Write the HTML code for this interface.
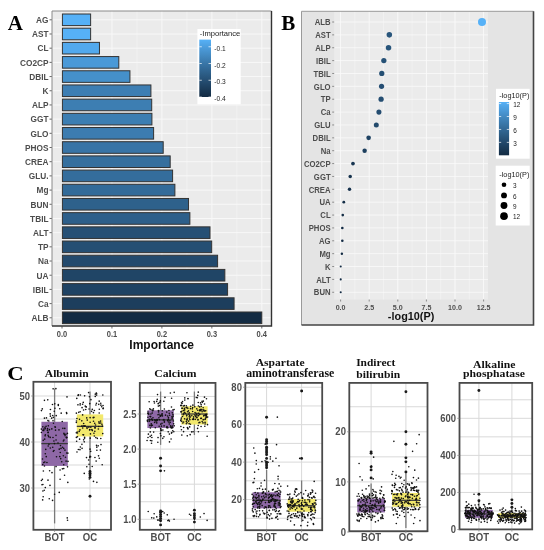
<!DOCTYPE html><html><head><meta charset="utf-8"><style>html,body{margin:0;padding:0;background:#fff;width:544px;height:550px;overflow:hidden}svg{display:block;filter:blur(0.3px)}</style></head><body>
<svg width="544" height="550" viewBox="0 0 544 550">
<defs>
<linearGradient id="gA" x1="0" y1="0" x2="0" y2="1"><stop offset="0.00" stop-color="#56b1f7"/><stop offset="0.10" stop-color="#4fa2e3"/><stop offset="0.20" stop-color="#4894d0"/><stop offset="0.30" stop-color="#4186bd"/><stop offset="0.40" stop-color="#3a78aa"/><stop offset="0.50" stop-color="#336a98"/><stop offset="0.60" stop-color="#2c5d86"/><stop offset="0.70" stop-color="#265075"/><stop offset="0.80" stop-color="#1f4364"/><stop offset="0.90" stop-color="#193753"/><stop offset="1.00" stop-color="#132b43"/></linearGradient>
</defs>
<rect x="52" y="11" width="219.5" height="315" fill="#EBEBEB"/>
<line x1="86.97" y1="11" x2="86.97" y2="326" stroke="#F2F2F2" stroke-width="0.8"/>
<line x1="136.93" y1="11" x2="136.93" y2="326" stroke="#F2F2F2" stroke-width="0.8"/>
<line x1="186.88" y1="11" x2="186.88" y2="326" stroke="#F2F2F2" stroke-width="0.8"/>
<line x1="236.82" y1="11" x2="236.82" y2="326" stroke="#F2F2F2" stroke-width="0.8"/>
<line x1="62.00" y1="11" x2="62.00" y2="326" stroke="#F8F8F8" stroke-width="1"/>
<line x1="111.95" y1="11" x2="111.95" y2="326" stroke="#F8F8F8" stroke-width="1"/>
<line x1="161.90" y1="11" x2="161.90" y2="326" stroke="#F8F8F8" stroke-width="1"/>
<line x1="211.85" y1="11" x2="211.85" y2="326" stroke="#F8F8F8" stroke-width="1"/>
<line x1="261.80" y1="11" x2="261.80" y2="326" stroke="#F8F8F8" stroke-width="1"/>
<line x1="52" y1="19.80" x2="271.5" y2="19.80" stroke="#F8F8F8" stroke-width="1"/>
<line x1="52" y1="33.99" x2="271.5" y2="33.99" stroke="#F8F8F8" stroke-width="1"/>
<line x1="52" y1="48.18" x2="271.5" y2="48.18" stroke="#F8F8F8" stroke-width="1"/>
<line x1="52" y1="62.37" x2="271.5" y2="62.37" stroke="#F8F8F8" stroke-width="1"/>
<line x1="52" y1="76.56" x2="271.5" y2="76.56" stroke="#F8F8F8" stroke-width="1"/>
<line x1="52" y1="90.75" x2="271.5" y2="90.75" stroke="#F8F8F8" stroke-width="1"/>
<line x1="52" y1="104.94" x2="271.5" y2="104.94" stroke="#F8F8F8" stroke-width="1"/>
<line x1="52" y1="119.13" x2="271.5" y2="119.13" stroke="#F8F8F8" stroke-width="1"/>
<line x1="52" y1="133.32" x2="271.5" y2="133.32" stroke="#F8F8F8" stroke-width="1"/>
<line x1="52" y1="147.51" x2="271.5" y2="147.51" stroke="#F8F8F8" stroke-width="1"/>
<line x1="52" y1="161.70" x2="271.5" y2="161.70" stroke="#F8F8F8" stroke-width="1"/>
<line x1="52" y1="175.89" x2="271.5" y2="175.89" stroke="#F8F8F8" stroke-width="1"/>
<line x1="52" y1="190.08" x2="271.5" y2="190.08" stroke="#F8F8F8" stroke-width="1"/>
<line x1="52" y1="204.27" x2="271.5" y2="204.27" stroke="#F8F8F8" stroke-width="1"/>
<line x1="52" y1="218.46" x2="271.5" y2="218.46" stroke="#F8F8F8" stroke-width="1"/>
<line x1="52" y1="232.65" x2="271.5" y2="232.65" stroke="#F8F8F8" stroke-width="1"/>
<line x1="52" y1="246.84" x2="271.5" y2="246.84" stroke="#F8F8F8" stroke-width="1"/>
<line x1="52" y1="261.03" x2="271.5" y2="261.03" stroke="#F8F8F8" stroke-width="1"/>
<line x1="52" y1="275.22" x2="271.5" y2="275.22" stroke="#F8F8F8" stroke-width="1"/>
<line x1="52" y1="289.41" x2="271.5" y2="289.41" stroke="#F8F8F8" stroke-width="1"/>
<line x1="52" y1="303.60" x2="271.5" y2="303.60" stroke="#F8F8F8" stroke-width="1"/>
<line x1="52" y1="317.79" x2="271.5" y2="317.79" stroke="#F8F8F8" stroke-width="1"/>
<rect x="62.4" y="14.00" width="28.22" height="11.6" fill="#56b1f7" stroke="#333" stroke-width="1"/>
<line x1="49.5" y1="19.80" x2="52" y2="19.80" stroke="#444" stroke-width="0.8"/>
<text transform="translate(48.5,23.10) scale(0.9,1)" text-anchor="end" font-family='"Liberation Sans", sans-serif' font-weight="bold" font-size="9.2" fill="#4D4D4D">AG</text>
<rect x="62.4" y="28.19" width="28.22" height="11.6" fill="#56b1f7" stroke="#333" stroke-width="1"/>
<line x1="49.5" y1="33.99" x2="52" y2="33.99" stroke="#444" stroke-width="0.8"/>
<text transform="translate(48.5,37.29) scale(0.9,1)" text-anchor="end" font-family='"Liberation Sans", sans-serif' font-weight="bold" font-size="9.2" fill="#4D4D4D">AST</text>
<rect x="62.4" y="42.38" width="37.06" height="11.6" fill="#52a9ed" stroke="#333" stroke-width="1"/>
<line x1="49.5" y1="48.18" x2="52" y2="48.18" stroke="#444" stroke-width="0.8"/>
<text transform="translate(48.5,51.48) scale(0.9,1)" text-anchor="end" font-family='"Liberation Sans", sans-serif' font-weight="bold" font-size="9.2" fill="#4D4D4D">CL</text>
<rect x="62.4" y="56.57" width="56.39" height="11.6" fill="#4a99d7" stroke="#333" stroke-width="1"/>
<line x1="49.5" y1="62.37" x2="52" y2="62.37" stroke="#444" stroke-width="0.8"/>
<text transform="translate(48.5,65.67) scale(0.9,1)" text-anchor="end" font-family='"Liberation Sans", sans-serif' font-weight="bold" font-size="9.2" fill="#4D4D4D">CO2CP</text>
<rect x="62.4" y="70.76" width="67.53" height="11.6" fill="#4590ca" stroke="#333" stroke-width="1"/>
<line x1="49.5" y1="76.56" x2="52" y2="76.56" stroke="#444" stroke-width="0.8"/>
<text transform="translate(48.5,79.86) scale(0.9,1)" text-anchor="end" font-family='"Liberation Sans", sans-serif' font-weight="bold" font-size="9.2" fill="#4D4D4D">DBIL</text>
<rect x="62.4" y="84.95" width="88.51" height="11.6" fill="#3d7eb3" stroke="#333" stroke-width="1"/>
<line x1="49.5" y1="90.75" x2="52" y2="90.75" stroke="#444" stroke-width="0.8"/>
<text transform="translate(48.5,94.05) scale(0.9,1)" text-anchor="end" font-family='"Liberation Sans", sans-serif' font-weight="bold" font-size="9.2" fill="#4D4D4D">K</text>
<rect x="62.4" y="99.14" width="89.31" height="11.6" fill="#3d7eb2" stroke="#333" stroke-width="1"/>
<line x1="49.5" y1="104.94" x2="52" y2="104.94" stroke="#444" stroke-width="0.8"/>
<text transform="translate(48.5,108.24) scale(0.9,1)" text-anchor="end" font-family='"Liberation Sans", sans-serif' font-weight="bold" font-size="9.2" fill="#4D4D4D">ALP</text>
<rect x="62.4" y="113.33" width="89.51" height="11.6" fill="#3c7eb2" stroke="#333" stroke-width="1"/>
<line x1="49.5" y1="119.13" x2="52" y2="119.13" stroke="#444" stroke-width="0.8"/>
<text transform="translate(48.5,122.43) scale(0.9,1)" text-anchor="end" font-family='"Liberation Sans", sans-serif' font-weight="bold" font-size="9.2" fill="#4D4D4D">GGT</text>
<rect x="62.4" y="127.52" width="91.21" height="11.6" fill="#3c7cb0" stroke="#333" stroke-width="1"/>
<line x1="49.5" y1="133.32" x2="52" y2="133.32" stroke="#444" stroke-width="0.8"/>
<text transform="translate(48.5,136.62) scale(0.9,1)" text-anchor="end" font-family='"Liberation Sans", sans-serif' font-weight="bold" font-size="9.2" fill="#4D4D4D">GLO</text>
<rect x="62.4" y="141.71" width="100.80" height="11.6" fill="#3874a6" stroke="#333" stroke-width="1"/>
<line x1="49.5" y1="147.51" x2="52" y2="147.51" stroke="#444" stroke-width="0.8"/>
<text transform="translate(48.5,150.81) scale(0.9,1)" text-anchor="end" font-family='"Liberation Sans", sans-serif' font-weight="bold" font-size="9.2" fill="#4D4D4D">PHOS</text>
<rect x="62.4" y="155.90" width="107.79" height="11.6" fill="#356f9e" stroke="#333" stroke-width="1"/>
<line x1="49.5" y1="161.70" x2="52" y2="161.70" stroke="#444" stroke-width="0.8"/>
<text transform="translate(48.5,165.00) scale(0.9,1)" text-anchor="end" font-family='"Liberation Sans", sans-serif' font-weight="bold" font-size="9.2" fill="#4D4D4D">CREA</text>
<rect x="62.4" y="170.09" width="110.19" height="11.6" fill="#346d9c" stroke="#333" stroke-width="1"/>
<line x1="49.5" y1="175.89" x2="52" y2="175.89" stroke="#444" stroke-width="0.8"/>
<text transform="translate(48.5,179.19) scale(0.9,1)" text-anchor="end" font-family='"Liberation Sans", sans-serif' font-weight="bold" font-size="9.2" fill="#4D4D4D">GLU.</text>
<rect x="62.4" y="184.28" width="112.49" height="11.6" fill="#336b99" stroke="#333" stroke-width="1"/>
<line x1="49.5" y1="190.08" x2="52" y2="190.08" stroke="#444" stroke-width="0.8"/>
<text transform="translate(48.5,193.38) scale(0.9,1)" text-anchor="end" font-family='"Liberation Sans", sans-serif' font-weight="bold" font-size="9.2" fill="#4D4D4D">Mg</text>
<rect x="62.4" y="198.47" width="126.12" height="11.6" fill="#2e618b" stroke="#333" stroke-width="1"/>
<line x1="49.5" y1="204.27" x2="52" y2="204.27" stroke="#444" stroke-width="0.8"/>
<text transform="translate(48.5,207.57) scale(0.9,1)" text-anchor="end" font-family='"Liberation Sans", sans-serif' font-weight="bold" font-size="9.2" fill="#4D4D4D">BUN</text>
<rect x="62.4" y="212.66" width="127.47" height="11.6" fill="#2d5f8a" stroke="#333" stroke-width="1"/>
<line x1="49.5" y1="218.46" x2="52" y2="218.46" stroke="#444" stroke-width="0.8"/>
<text transform="translate(48.5,221.76) scale(0.9,1)" text-anchor="end" font-family='"Liberation Sans", sans-serif' font-weight="bold" font-size="9.2" fill="#4D4D4D">TBIL</text>
<rect x="62.4" y="226.85" width="147.60" height="11.6" fill="#265075" stroke="#333" stroke-width="1"/>
<line x1="49.5" y1="232.65" x2="52" y2="232.65" stroke="#444" stroke-width="0.8"/>
<text transform="translate(48.5,235.95) scale(0.9,1)" text-anchor="end" font-family='"Liberation Sans", sans-serif' font-weight="bold" font-size="9.2" fill="#4D4D4D">ALT</text>
<rect x="62.4" y="241.04" width="149.30" height="11.6" fill="#254f73" stroke="#333" stroke-width="1"/>
<line x1="49.5" y1="246.84" x2="52" y2="246.84" stroke="#444" stroke-width="0.8"/>
<text transform="translate(48.5,250.14) scale(0.9,1)" text-anchor="end" font-family='"Liberation Sans", sans-serif' font-weight="bold" font-size="9.2" fill="#4D4D4D">TP</text>
<rect x="62.4" y="255.23" width="155.19" height="11.6" fill="#234a6d" stroke="#333" stroke-width="1"/>
<line x1="49.5" y1="261.03" x2="52" y2="261.03" stroke="#444" stroke-width="0.8"/>
<text transform="translate(48.5,264.33) scale(0.9,1)" text-anchor="end" font-family='"Liberation Sans", sans-serif' font-weight="bold" font-size="9.2" fill="#4D4D4D">Na</text>
<rect x="62.4" y="269.42" width="162.44" height="11.6" fill="#204566" stroke="#333" stroke-width="1"/>
<line x1="49.5" y1="275.22" x2="52" y2="275.22" stroke="#444" stroke-width="0.8"/>
<text transform="translate(48.5,278.52) scale(0.9,1)" text-anchor="end" font-family='"Liberation Sans", sans-serif' font-weight="bold" font-size="9.2" fill="#4D4D4D">UA</text>
<rect x="62.4" y="283.61" width="165.18" height="11.6" fill="#1f4364" stroke="#333" stroke-width="1"/>
<line x1="49.5" y1="289.41" x2="52" y2="289.41" stroke="#444" stroke-width="0.8"/>
<text transform="translate(48.5,292.71) scale(0.9,1)" text-anchor="end" font-family='"Liberation Sans", sans-serif' font-weight="bold" font-size="9.2" fill="#4D4D4D">IBIL</text>
<rect x="62.4" y="297.80" width="171.68" height="11.6" fill="#1d3e5d" stroke="#333" stroke-width="1"/>
<line x1="49.5" y1="303.60" x2="52" y2="303.60" stroke="#444" stroke-width="0.8"/>
<text transform="translate(48.5,306.90) scale(0.9,1)" text-anchor="end" font-family='"Liberation Sans", sans-serif' font-weight="bold" font-size="9.2" fill="#4D4D4D">Ca</text>
<rect x="62.4" y="311.99" width="199.40" height="11.6" fill="#132b43" stroke="#333" stroke-width="1"/>
<line x1="49.5" y1="317.79" x2="52" y2="317.79" stroke="#444" stroke-width="0.8"/>
<text transform="translate(48.5,321.09) scale(0.9,1)" text-anchor="end" font-family='"Liberation Sans", sans-serif' font-weight="bold" font-size="9.2" fill="#4D4D4D">ALB</text>
<path d="M52 326 L52 11 L271.5 11" fill="none" stroke="#8a8a8a" stroke-width="1"/>
<path d="M52 326 L271.5 326 L271.5 11" fill="none" stroke="#333" stroke-width="1.4"/>
<line x1="62.00" y1="326" x2="62.00" y2="328.5" stroke="#444" stroke-width="0.8"/>
<text transform="translate(62.00,336.7) scale(0.88,1)" text-anchor="middle" font-family='"Liberation Sans", sans-serif' font-weight="bold" font-size="8.5" fill="#4D4D4D">0.0</text>
<line x1="111.95" y1="326" x2="111.95" y2="328.5" stroke="#444" stroke-width="0.8"/>
<text transform="translate(111.95,336.7) scale(0.88,1)" text-anchor="middle" font-family='"Liberation Sans", sans-serif' font-weight="bold" font-size="8.5" fill="#4D4D4D">0.1</text>
<line x1="161.90" y1="326" x2="161.90" y2="328.5" stroke="#444" stroke-width="0.8"/>
<text transform="translate(161.90,336.7) scale(0.88,1)" text-anchor="middle" font-family='"Liberation Sans", sans-serif' font-weight="bold" font-size="8.5" fill="#4D4D4D">0.2</text>
<line x1="211.85" y1="326" x2="211.85" y2="328.5" stroke="#444" stroke-width="0.8"/>
<text transform="translate(211.85,336.7) scale(0.88,1)" text-anchor="middle" font-family='"Liberation Sans", sans-serif' font-weight="bold" font-size="8.5" fill="#4D4D4D">0.3</text>
<line x1="261.80" y1="326" x2="261.80" y2="328.5" stroke="#444" stroke-width="0.8"/>
<text transform="translate(261.80,336.7) scale(0.88,1)" text-anchor="middle" font-family='"Liberation Sans", sans-serif' font-weight="bold" font-size="8.5" fill="#4D4D4D">0.4</text>
<text x="161.7" y="348.6" text-anchor="middle" font-family='"Liberation Sans", sans-serif' font-weight="bold" font-size="12" fill="#111">Importance</text>
<rect x="197.4" y="29" width="43.3" height="75.3" fill="#FFFFFF"/>
<text x="199.8" y="36.4" font-family='"Liberation Sans", sans-serif' font-size="7.6" fill="#222">-Importance</text>
<rect x="199.3" y="39.6" width="11.7" height="57.4" fill="url(#gA)"/>
<line x1="199.3" y1="46.75" x2="201.8" y2="46.75" stroke="#fff" stroke-width="0.7"/>
<line x1="208.5" y1="46.75" x2="211" y2="46.75" stroke="#fff" stroke-width="0.7"/>
<text x="214.3" y="50.75" font-family='"Liberation Sans", sans-serif' font-size="6.6" fill="#222">-0.1</text>
<line x1="199.3" y1="63.50" x2="201.8" y2="63.50" stroke="#fff" stroke-width="0.7"/>
<line x1="208.5" y1="63.50" x2="211" y2="63.50" stroke="#fff" stroke-width="0.7"/>
<text x="214.3" y="67.50" font-family='"Liberation Sans", sans-serif' font-size="6.6" fill="#222">-0.2</text>
<line x1="199.3" y1="80.25" x2="201.8" y2="80.25" stroke="#fff" stroke-width="0.7"/>
<line x1="208.5" y1="80.25" x2="211" y2="80.25" stroke="#fff" stroke-width="0.7"/>
<text x="214.3" y="84.25" font-family='"Liberation Sans", sans-serif' font-size="6.6" fill="#222">-0.3</text>
<line x1="199.3" y1="97.00" x2="201.8" y2="97.00" stroke="#fff" stroke-width="0.7"/>
<line x1="208.5" y1="97.00" x2="211" y2="97.00" stroke="#fff" stroke-width="0.7"/>
<text x="214.3" y="101.00" font-family='"Liberation Sans", sans-serif' font-size="6.6" fill="#222">-0.4</text>
<text x="7.8" y="30.3" font-family='"Liberation Serif", serif' font-weight="bold" font-size="21" fill="#000">A</text>
<text x="281.3" y="29.8" font-family='"Liberation Serif", serif' font-weight="bold" font-size="21" fill="#000">B</text>
<rect x="301.5" y="11.3" width="232.0" height="313.7" fill="#E4E4E4"/>
<rect x="334.2" y="11.3" width="153.8" height="288.2" fill="#EBEBEB"/>
<line x1="354.90" y1="11.3" x2="354.90" y2="299.5" stroke="#F2F2F2" stroke-width="0.8"/>
<line x1="383.50" y1="11.3" x2="383.50" y2="299.5" stroke="#F2F2F2" stroke-width="0.8"/>
<line x1="412.10" y1="11.3" x2="412.10" y2="299.5" stroke="#F2F2F2" stroke-width="0.8"/>
<line x1="440.70" y1="11.3" x2="440.70" y2="299.5" stroke="#F2F2F2" stroke-width="0.8"/>
<line x1="469.30" y1="11.3" x2="469.30" y2="299.5" stroke="#F2F2F2" stroke-width="0.8"/>
<line x1="340.60" y1="11.3" x2="340.60" y2="299.5" stroke="#FAFAFA" stroke-width="0.9"/>
<line x1="369.20" y1="11.3" x2="369.20" y2="299.5" stroke="#FAFAFA" stroke-width="0.9"/>
<line x1="397.80" y1="11.3" x2="397.80" y2="299.5" stroke="#FAFAFA" stroke-width="0.9"/>
<line x1="426.40" y1="11.3" x2="426.40" y2="299.5" stroke="#FAFAFA" stroke-width="0.9"/>
<line x1="455.00" y1="11.3" x2="455.00" y2="299.5" stroke="#FAFAFA" stroke-width="0.9"/>
<line x1="483.60" y1="11.3" x2="483.60" y2="299.5" stroke="#FAFAFA" stroke-width="0.9"/>
<line x1="334.2" y1="22.00" x2="488" y2="22.00" stroke="#FAFAFA" stroke-width="0.8"/>
<line x1="334.2" y1="34.87" x2="488" y2="34.87" stroke="#FAFAFA" stroke-width="0.8"/>
<line x1="334.2" y1="47.74" x2="488" y2="47.74" stroke="#FAFAFA" stroke-width="0.8"/>
<line x1="334.2" y1="60.61" x2="488" y2="60.61" stroke="#FAFAFA" stroke-width="0.8"/>
<line x1="334.2" y1="73.48" x2="488" y2="73.48" stroke="#FAFAFA" stroke-width="0.8"/>
<line x1="334.2" y1="86.35" x2="488" y2="86.35" stroke="#FAFAFA" stroke-width="0.8"/>
<line x1="334.2" y1="99.22" x2="488" y2="99.22" stroke="#FAFAFA" stroke-width="0.8"/>
<line x1="334.2" y1="112.09" x2="488" y2="112.09" stroke="#FAFAFA" stroke-width="0.8"/>
<line x1="334.2" y1="124.96" x2="488" y2="124.96" stroke="#FAFAFA" stroke-width="0.8"/>
<line x1="334.2" y1="137.83" x2="488" y2="137.83" stroke="#FAFAFA" stroke-width="0.8"/>
<line x1="334.2" y1="150.70" x2="488" y2="150.70" stroke="#FAFAFA" stroke-width="0.8"/>
<line x1="334.2" y1="163.57" x2="488" y2="163.57" stroke="#FAFAFA" stroke-width="0.8"/>
<line x1="334.2" y1="176.44" x2="488" y2="176.44" stroke="#FAFAFA" stroke-width="0.8"/>
<line x1="334.2" y1="189.31" x2="488" y2="189.31" stroke="#FAFAFA" stroke-width="0.8"/>
<line x1="334.2" y1="202.18" x2="488" y2="202.18" stroke="#FAFAFA" stroke-width="0.8"/>
<line x1="334.2" y1="215.05" x2="488" y2="215.05" stroke="#FAFAFA" stroke-width="0.8"/>
<line x1="334.2" y1="227.92" x2="488" y2="227.92" stroke="#FAFAFA" stroke-width="0.8"/>
<line x1="334.2" y1="240.79" x2="488" y2="240.79" stroke="#FAFAFA" stroke-width="0.8"/>
<line x1="334.2" y1="253.66" x2="488" y2="253.66" stroke="#FAFAFA" stroke-width="0.8"/>
<line x1="334.2" y1="266.53" x2="488" y2="266.53" stroke="#FAFAFA" stroke-width="0.8"/>
<line x1="334.2" y1="279.40" x2="488" y2="279.40" stroke="#FAFAFA" stroke-width="0.8"/>
<line x1="334.2" y1="292.27" x2="488" y2="292.27" stroke="#FAFAFA" stroke-width="0.8"/>
<circle cx="482.00" cy="22.00" r="4.03" fill="#56b1f7"/>
<line x1="332.2" y1="22.00" x2="334.2" y2="22.00" stroke="#666" stroke-width="0.7"/>
<text transform="translate(330.59999999999997,25.20) scale(0.92,1)" text-anchor="end" font-family='"Liberation Sans", sans-serif' font-weight="bold" font-size="8.4" fill="#4D4D4D">ALB</text>
<circle cx="389.33" cy="34.87" r="2.76" fill="#29567c"/>
<line x1="332.2" y1="34.87" x2="334.2" y2="34.87" stroke="#666" stroke-width="0.7"/>
<text transform="translate(330.59999999999997,38.07) scale(0.92,1)" text-anchor="end" font-family='"Liberation Sans", sans-serif' font-weight="bold" font-size="8.4" fill="#4D4D4D">AST</text>
<circle cx="388.53" cy="47.74" r="2.74" fill="#28557b"/>
<line x1="332.2" y1="47.74" x2="334.2" y2="47.74" stroke="#666" stroke-width="0.7"/>
<text transform="translate(330.59999999999997,50.94) scale(0.92,1)" text-anchor="end" font-family='"Liberation Sans", sans-serif' font-weight="bold" font-size="8.4" fill="#4D4D4D">ALP</text>
<circle cx="383.84" cy="60.61" r="2.65" fill="#265176"/>
<line x1="332.2" y1="60.61" x2="334.2" y2="60.61" stroke="#666" stroke-width="0.7"/>
<text transform="translate(330.59999999999997,63.81) scale(0.92,1)" text-anchor="end" font-family='"Liberation Sans", sans-serif' font-weight="bold" font-size="8.4" fill="#4D4D4D">IBIL</text>
<circle cx="381.78" cy="73.48" r="2.61" fill="#254f73"/>
<line x1="332.2" y1="73.48" x2="334.2" y2="73.48" stroke="#666" stroke-width="0.7"/>
<text transform="translate(330.59999999999997,76.68) scale(0.92,1)" text-anchor="end" font-family='"Liberation Sans", sans-serif' font-weight="bold" font-size="8.4" fill="#4D4D4D">TBIL</text>
<circle cx="381.56" cy="86.35" r="2.61" fill="#254e73"/>
<line x1="332.2" y1="86.35" x2="334.2" y2="86.35" stroke="#666" stroke-width="0.7"/>
<text transform="translate(330.59999999999997,89.55) scale(0.92,1)" text-anchor="end" font-family='"Liberation Sans", sans-serif' font-weight="bold" font-size="8.4" fill="#4D4D4D">GLO</text>
<circle cx="381.10" cy="99.22" r="2.60" fill="#254e72"/>
<line x1="332.2" y1="99.22" x2="334.2" y2="99.22" stroke="#666" stroke-width="0.7"/>
<text transform="translate(330.59999999999997,102.42) scale(0.92,1)" text-anchor="end" font-family='"Liberation Sans", sans-serif' font-weight="bold" font-size="8.4" fill="#4D4D4D">TP</text>
<circle cx="378.92" cy="112.09" r="2.55" fill="#244c70"/>
<line x1="332.2" y1="112.09" x2="334.2" y2="112.09" stroke="#666" stroke-width="0.7"/>
<text transform="translate(330.59999999999997,115.29) scale(0.92,1)" text-anchor="end" font-family='"Liberation Sans", sans-serif' font-weight="bold" font-size="8.4" fill="#4D4D4D">Ca</text>
<circle cx="376.29" cy="124.96" r="2.50" fill="#234a6c"/>
<line x1="332.2" y1="124.96" x2="334.2" y2="124.96" stroke="#666" stroke-width="0.7"/>
<text transform="translate(330.59999999999997,128.16) scale(0.92,1)" text-anchor="end" font-family='"Liberation Sans", sans-serif' font-weight="bold" font-size="8.4" fill="#4D4D4D">GLU</text>
<circle cx="368.63" cy="137.83" r="2.32" fill="#1f4363"/>
<line x1="332.2" y1="137.83" x2="334.2" y2="137.83" stroke="#666" stroke-width="0.7"/>
<text transform="translate(330.59999999999997,141.03) scale(0.92,1)" text-anchor="end" font-family='"Liberation Sans", sans-serif' font-weight="bold" font-size="8.4" fill="#4D4D4D">DBIL</text>
<circle cx="364.62" cy="150.70" r="2.22" fill="#1d3f5e"/>
<line x1="332.2" y1="150.70" x2="334.2" y2="150.70" stroke="#666" stroke-width="0.7"/>
<text transform="translate(330.59999999999997,153.90) scale(0.92,1)" text-anchor="end" font-family='"Liberation Sans", sans-serif' font-weight="bold" font-size="8.4" fill="#4D4D4D">Na</text>
<circle cx="352.96" cy="163.57" r="1.86" fill="#183551"/>
<line x1="332.2" y1="163.57" x2="334.2" y2="163.57" stroke="#666" stroke-width="0.7"/>
<text transform="translate(330.59999999999997,166.77) scale(0.92,1)" text-anchor="end" font-family='"Liberation Sans", sans-serif' font-weight="bold" font-size="8.4" fill="#4D4D4D">CO2CP</text>
<circle cx="350.21" cy="176.44" r="1.75" fill="#17334e"/>
<line x1="332.2" y1="176.44" x2="334.2" y2="176.44" stroke="#666" stroke-width="0.7"/>
<text transform="translate(330.59999999999997,179.64) scale(0.92,1)" text-anchor="end" font-family='"Liberation Sans", sans-serif' font-weight="bold" font-size="8.4" fill="#4D4D4D">GGT</text>
<circle cx="349.52" cy="189.31" r="1.72" fill="#17324d"/>
<line x1="332.2" y1="189.31" x2="334.2" y2="189.31" stroke="#666" stroke-width="0.7"/>
<text transform="translate(330.59999999999997,192.51) scale(0.92,1)" text-anchor="end" font-family='"Liberation Sans", sans-serif' font-weight="bold" font-size="8.4" fill="#4D4D4D">CREA</text>
<circle cx="343.80" cy="202.18" r="1.41" fill="#142e47"/>
<line x1="332.2" y1="202.18" x2="334.2" y2="202.18" stroke="#666" stroke-width="0.7"/>
<text transform="translate(330.59999999999997,205.38) scale(0.92,1)" text-anchor="end" font-family='"Liberation Sans", sans-serif' font-weight="bold" font-size="8.4" fill="#4D4D4D">UA</text>
<circle cx="342.77" cy="215.05" r="1.33" fill="#142d45"/>
<line x1="332.2" y1="215.05" x2="334.2" y2="215.05" stroke="#666" stroke-width="0.7"/>
<text transform="translate(330.59999999999997,218.25) scale(0.92,1)" text-anchor="end" font-family='"Liberation Sans", sans-serif' font-weight="bold" font-size="8.4" fill="#4D4D4D">CL</text>
<circle cx="342.32" cy="227.92" r="1.29" fill="#142c45"/>
<line x1="332.2" y1="227.92" x2="334.2" y2="227.92" stroke="#666" stroke-width="0.7"/>
<text transform="translate(330.59999999999997,231.12) scale(0.92,1)" text-anchor="end" font-family='"Liberation Sans", sans-serif' font-weight="bold" font-size="8.4" fill="#4D4D4D">PHOS</text>
<circle cx="342.32" cy="240.79" r="1.29" fill="#142c45"/>
<line x1="332.2" y1="240.79" x2="334.2" y2="240.79" stroke="#666" stroke-width="0.7"/>
<text transform="translate(330.59999999999997,243.99) scale(0.92,1)" text-anchor="end" font-family='"Liberation Sans", sans-serif' font-weight="bold" font-size="8.4" fill="#4D4D4D">AG</text>
<circle cx="341.86" cy="253.66" r="1.24" fill="#142c44"/>
<line x1="332.2" y1="253.66" x2="334.2" y2="253.66" stroke="#666" stroke-width="0.7"/>
<text transform="translate(330.59999999999997,256.86) scale(0.92,1)" text-anchor="end" font-family='"Liberation Sans", sans-serif' font-weight="bold" font-size="8.4" fill="#4D4D4D">Mg</text>
<circle cx="340.71" cy="266.53" r="1.04" fill="#132b43"/>
<line x1="332.2" y1="266.53" x2="334.2" y2="266.53" stroke="#666" stroke-width="0.7"/>
<text transform="translate(330.59999999999997,269.73) scale(0.92,1)" text-anchor="end" font-family='"Liberation Sans", sans-serif' font-weight="bold" font-size="8.4" fill="#4D4D4D">K</text>
<circle cx="340.71" cy="279.40" r="1.04" fill="#132b43"/>
<line x1="332.2" y1="279.40" x2="334.2" y2="279.40" stroke="#666" stroke-width="0.7"/>
<text transform="translate(330.59999999999997,282.60) scale(0.92,1)" text-anchor="end" font-family='"Liberation Sans", sans-serif' font-weight="bold" font-size="8.4" fill="#4D4D4D">ALT</text>
<circle cx="340.71" cy="292.27" r="1.04" fill="#132b43"/>
<line x1="332.2" y1="292.27" x2="334.2" y2="292.27" stroke="#666" stroke-width="0.7"/>
<text transform="translate(330.59999999999997,295.47) scale(0.92,1)" text-anchor="end" font-family='"Liberation Sans", sans-serif' font-weight="bold" font-size="8.4" fill="#4D4D4D">BUN</text>
<line x1="340.60" y1="299.5" x2="340.60" y2="301.5" stroke="#666" stroke-width="0.7"/>
<text transform="translate(340.60,309.5) scale(0.88,1)" text-anchor="middle" font-family='"Liberation Sans", sans-serif' font-weight="bold" font-size="8.1" fill="#4D4D4D">0.0</text>
<line x1="369.20" y1="299.5" x2="369.20" y2="301.5" stroke="#666" stroke-width="0.7"/>
<text transform="translate(369.20,309.5) scale(0.88,1)" text-anchor="middle" font-family='"Liberation Sans", sans-serif' font-weight="bold" font-size="8.1" fill="#4D4D4D">2.5</text>
<line x1="397.80" y1="299.5" x2="397.80" y2="301.5" stroke="#666" stroke-width="0.7"/>
<text transform="translate(397.80,309.5) scale(0.88,1)" text-anchor="middle" font-family='"Liberation Sans", sans-serif' font-weight="bold" font-size="8.1" fill="#4D4D4D">5.0</text>
<line x1="426.40" y1="299.5" x2="426.40" y2="301.5" stroke="#666" stroke-width="0.7"/>
<text transform="translate(426.40,309.5) scale(0.88,1)" text-anchor="middle" font-family='"Liberation Sans", sans-serif' font-weight="bold" font-size="8.1" fill="#4D4D4D">7.5</text>
<line x1="455.00" y1="299.5" x2="455.00" y2="301.5" stroke="#666" stroke-width="0.7"/>
<text transform="translate(455.00,309.5) scale(0.88,1)" text-anchor="middle" font-family='"Liberation Sans", sans-serif' font-weight="bold" font-size="8.1" fill="#4D4D4D">10.0</text>
<line x1="483.60" y1="299.5" x2="483.60" y2="301.5" stroke="#666" stroke-width="0.7"/>
<text transform="translate(483.60,309.5) scale(0.88,1)" text-anchor="middle" font-family='"Liberation Sans", sans-serif' font-weight="bold" font-size="8.1" fill="#4D4D4D">12.5</text>
<text transform="translate(387.87,320.22) scale(1.061,1)" font-family='"Liberation Sans", sans-serif' font-weight="bold" font-size="10.24" fill="#111">-log10(P)</text>
<rect x="496" y="88.8" width="33.7" height="69.9" fill="#FFFFFF"/>
<text x="499.3" y="98.4" font-family='"Liberation Sans", sans-serif' font-size="7.3" fill="#222">-log10(P)</text>
<rect x="498.9" y="102.0" width="10.2" height="53.30000000000001" fill="url(#gA)"/>
<line x1="498.9" y1="103.55" x2="501.2" y2="103.55" stroke="#fff" stroke-width="0.7"/>
<line x1="506.8" y1="103.55" x2="509.1" y2="103.55" stroke="#fff" stroke-width="0.7"/>
<text x="513.2" y="107.25" font-family='"Liberation Sans", sans-serif' font-size="6.4" fill="#222">12</text>
<line x1="498.9" y1="116.49" x2="501.2" y2="116.49" stroke="#fff" stroke-width="0.7"/>
<line x1="506.8" y1="116.49" x2="509.1" y2="116.49" stroke="#fff" stroke-width="0.7"/>
<text x="513.2" y="120.19" font-family='"Liberation Sans", sans-serif' font-size="6.4" fill="#222">9</text>
<line x1="498.9" y1="129.43" x2="501.2" y2="129.43" stroke="#fff" stroke-width="0.7"/>
<line x1="506.8" y1="129.43" x2="509.1" y2="129.43" stroke="#fff" stroke-width="0.7"/>
<text x="513.2" y="133.13" font-family='"Liberation Sans", sans-serif' font-size="6.4" fill="#222">6</text>
<line x1="498.9" y1="142.36" x2="501.2" y2="142.36" stroke="#fff" stroke-width="0.7"/>
<line x1="506.8" y1="142.36" x2="509.1" y2="142.36" stroke="#fff" stroke-width="0.7"/>
<text x="513.2" y="146.06" font-family='"Liberation Sans", sans-serif' font-size="6.4" fill="#222">3</text>
<rect x="495.7" y="165.7" width="34" height="59.8" fill="#FFFFFF"/>
<text x="499.3" y="176.6" font-family='"Liberation Sans", sans-serif' font-size="7.3" fill="#222">-log10(P)</text>
<circle cx="504" cy="184.8" r="2.32" fill="#000"/>
<text x="512.9" y="188.00" font-family='"Liberation Sans", sans-serif' font-size="6.4" fill="#222">3</text>
<circle cx="504" cy="195.4" r="2.94" fill="#000"/>
<text x="512.9" y="198.60" font-family='"Liberation Sans", sans-serif' font-size="6.4" fill="#222">6</text>
<circle cx="504" cy="205.5" r="3.42" fill="#000"/>
<text x="512.9" y="208.70" font-family='"Liberation Sans", sans-serif' font-size="6.4" fill="#222">9</text>
<circle cx="504" cy="216.2" r="3.83" fill="#000"/>
<text x="512.9" y="219.40" font-family='"Liberation Sans", sans-serif' font-size="6.4" fill="#222">12</text>
<path d="M301.5 325 L301.5 11.3 L533.5 11.3" fill="none" stroke="#9a9a9a" stroke-width="1"/>
<path d="M301.5 325 L533.5 325 L533.5 11.3" fill="none" stroke="#444" stroke-width="1.6"/>
<text transform="translate(7.17,380.32) scale(1.241,1)" font-family='"Liberation Serif", serif' font-weight="bold" font-size="18.29" fill="#000">C</text>
<rect x="33.4" y="381.8" width="77.6" height="147.99999999999994" fill="#FFFFFF"/>
<line x1="33.4" y1="419.00" x2="111" y2="419.00" stroke="#D9D9D9" stroke-width="1"/>
<line x1="33.4" y1="465.00" x2="111" y2="465.00" stroke="#D9D9D9" stroke-width="1"/>
<line x1="33.4" y1="511.00" x2="111" y2="511.00" stroke="#D9D9D9" stroke-width="1"/>
<line x1="33.4" y1="396.00" x2="111" y2="396.00" stroke="#D9D9D9" stroke-width="1"/>
<line x1="33.4" y1="442.00" x2="111" y2="442.00" stroke="#D9D9D9" stroke-width="1"/>
<line x1="33.4" y1="488.00" x2="111" y2="488.00" stroke="#D9D9D9" stroke-width="1"/>
<line x1="54.6" y1="381.8" x2="54.6" y2="529.8" stroke="#D9D9D9" stroke-width="1"/>
<line x1="90" y1="381.8" x2="90" y2="529.8" stroke="#D9D9D9" stroke-width="1"/>
<line x1="54.6" y1="388.64" x2="54.6" y2="523.42" stroke="#7a7a7a" stroke-width="1.3"/>
<rect x="41.40" y="421.76" width="26.4" height="44.16" fill="#8E68A6"/>
<line x1="41.40" y1="443.61" x2="67.80" y2="443.61" stroke="#3a3a3a" stroke-width="1.3"/>
<line x1="90" y1="391.40" x2="90" y2="477.42" stroke="#7a7a7a" stroke-width="1.3"/>
<rect x="76.80" y="414.40" width="26.4" height="22.08" fill="#F2E86C"/>
<line x1="76.80" y1="426.36" x2="103.20" y2="426.36" stroke="#3a3a3a" stroke-width="1.3"/>
<circle cx="90" cy="496.28" r="1.45" fill="#1a1a1a"/>
<circle cx="90" cy="477.42" r="1.45" fill="#1a1a1a"/>
<circle cx="90" cy="475.12" r="1.45" fill="#1a1a1a"/>
<circle cx="90" cy="473.28" r="1.45" fill="#1a1a1a"/>
<circle cx="90" cy="471.44" r="1.45" fill="#1a1a1a"/>
<circle cx="53.29" cy="451.36" r="0.82" fill="#111"/>
<circle cx="55.51" cy="430.18" r="0.82" fill="#111"/>
<circle cx="54.00" cy="450.54" r="0.82" fill="#111"/>
<circle cx="66.70" cy="453.00" r="0.82" fill="#111"/>
<circle cx="60.06" cy="469.97" r="0.82" fill="#111"/>
<circle cx="64.92" cy="450.19" r="0.82" fill="#111"/>
<circle cx="66.72" cy="413.61" r="0.82" fill="#111"/>
<circle cx="48.01" cy="432.59" r="0.82" fill="#111"/>
<circle cx="56.23" cy="415.68" r="0.82" fill="#111"/>
<circle cx="66.75" cy="437.43" r="0.82" fill="#111"/>
<circle cx="63.92" cy="433.40" r="0.82" fill="#111"/>
<circle cx="44.66" cy="439.18" r="0.82" fill="#111"/>
<circle cx="44.23" cy="490.28" r="0.82" fill="#111"/>
<circle cx="53.01" cy="420.70" r="0.82" fill="#111"/>
<circle cx="42.89" cy="430.32" r="0.82" fill="#111"/>
<circle cx="47.49" cy="430.53" r="0.82" fill="#111"/>
<circle cx="42.90" cy="490.98" r="0.82" fill="#111"/>
<circle cx="59.24" cy="492.43" r="0.82" fill="#111"/>
<circle cx="62.38" cy="468.85" r="0.82" fill="#111"/>
<circle cx="65.48" cy="457.22" r="0.82" fill="#111"/>
<circle cx="45.13" cy="435.87" r="0.82" fill="#111"/>
<circle cx="60.52" cy="445.57" r="0.82" fill="#111"/>
<circle cx="58.99" cy="429.92" r="0.82" fill="#111"/>
<circle cx="44.82" cy="462.03" r="0.82" fill="#111"/>
<circle cx="65.09" cy="435.78" r="0.82" fill="#111"/>
<circle cx="67.41" cy="433.42" r="0.82" fill="#111"/>
<circle cx="46.92" cy="462.55" r="0.82" fill="#111"/>
<circle cx="67.00" cy="396.90" r="0.82" fill="#111"/>
<circle cx="51.81" cy="428.94" r="0.82" fill="#111"/>
<circle cx="54.25" cy="411.26" r="0.82" fill="#111"/>
<circle cx="68.02" cy="461.42" r="0.82" fill="#111"/>
<circle cx="63.71" cy="464.71" r="0.82" fill="#111"/>
<circle cx="45.32" cy="453.80" r="0.82" fill="#111"/>
<circle cx="52.72" cy="447.24" r="0.82" fill="#111"/>
<circle cx="55.03" cy="426.85" r="0.82" fill="#111"/>
<circle cx="50.19" cy="437.44" r="0.82" fill="#111"/>
<circle cx="46.26" cy="456.65" r="0.82" fill="#111"/>
<circle cx="49.63" cy="470.71" r="0.82" fill="#111"/>
<circle cx="60.69" cy="458.67" r="0.82" fill="#111"/>
<circle cx="41.43" cy="410.60" r="0.82" fill="#111"/>
<circle cx="56.08" cy="466.60" r="0.82" fill="#111"/>
<circle cx="52.97" cy="437.54" r="0.82" fill="#111"/>
<circle cx="41.40" cy="432.53" r="0.82" fill="#111"/>
<circle cx="49.98" cy="485.42" r="0.82" fill="#111"/>
<circle cx="58.00" cy="442.96" r="0.82" fill="#111"/>
<circle cx="54.94" cy="408.25" r="0.82" fill="#111"/>
<circle cx="42.66" cy="499.90" r="0.82" fill="#111"/>
<circle cx="67.89" cy="453.18" r="0.82" fill="#111"/>
<circle cx="62.50" cy="447.23" r="0.82" fill="#111"/>
<circle cx="67.52" cy="466.86" r="0.82" fill="#111"/>
<circle cx="43.77" cy="430.57" r="0.82" fill="#111"/>
<circle cx="48.18" cy="446.02" r="0.82" fill="#111"/>
<circle cx="41.98" cy="484.72" r="0.82" fill="#111"/>
<circle cx="62.24" cy="421.45" r="0.82" fill="#111"/>
<circle cx="48.31" cy="425.83" r="0.82" fill="#111"/>
<circle cx="44.45" cy="418.19" r="0.82" fill="#111"/>
<circle cx="52.47" cy="404.54" r="0.82" fill="#111"/>
<circle cx="65.87" cy="434.30" r="0.82" fill="#111"/>
<circle cx="63.34" cy="441.01" r="0.82" fill="#111"/>
<circle cx="47.99" cy="480.16" r="0.82" fill="#111"/>
<circle cx="44.99" cy="427.31" r="0.82" fill="#111"/>
<circle cx="66.09" cy="461.18" r="0.82" fill="#111"/>
<circle cx="56.53" cy="456.79" r="0.82" fill="#111"/>
<circle cx="60.09" cy="479.21" r="0.82" fill="#111"/>
<circle cx="43.35" cy="471.01" r="0.82" fill="#111"/>
<circle cx="42.48" cy="458.96" r="0.82" fill="#111"/>
<circle cx="59.76" cy="408.73" r="0.82" fill="#111"/>
<circle cx="52.55" cy="500.38" r="0.82" fill="#111"/>
<circle cx="42.88" cy="484.53" r="0.82" fill="#111"/>
<circle cx="66.61" cy="437.69" r="0.82" fill="#111"/>
<circle cx="58.28" cy="404.46" r="0.82" fill="#111"/>
<circle cx="62.86" cy="428.33" r="0.82" fill="#111"/>
<circle cx="43.19" cy="496.74" r="0.82" fill="#111"/>
<circle cx="64.36" cy="434.44" r="0.82" fill="#111"/>
<circle cx="42.73" cy="464.62" r="0.82" fill="#111"/>
<circle cx="64.54" cy="475.21" r="0.82" fill="#111"/>
<circle cx="53.33" cy="417.32" r="0.82" fill="#111"/>
<circle cx="50.19" cy="413.89" r="0.82" fill="#111"/>
<circle cx="56.05" cy="439.96" r="0.82" fill="#111"/>
<circle cx="66.29" cy="437.52" r="0.82" fill="#111"/>
<circle cx="48.24" cy="432.31" r="0.82" fill="#111"/>
<circle cx="44.44" cy="400.31" r="0.82" fill="#111"/>
<circle cx="55.34" cy="427.21" r="0.82" fill="#111"/>
<circle cx="47.43" cy="429.99" r="0.82" fill="#111"/>
<circle cx="43.90" cy="429.18" r="0.82" fill="#111"/>
<circle cx="45.32" cy="487.59" r="0.82" fill="#111"/>
<circle cx="42.28" cy="408.92" r="0.82" fill="#111"/>
<circle cx="46.43" cy="417.94" r="0.82" fill="#111"/>
<circle cx="49.45" cy="429.68" r="0.82" fill="#111"/>
<circle cx="49.26" cy="498.78" r="0.82" fill="#111"/>
<circle cx="61.71" cy="461.79" r="0.82" fill="#111"/>
<circle cx="48.84" cy="421.05" r="0.82" fill="#111"/>
<circle cx="54.60" cy="494.29" r="0.82" fill="#111"/>
<circle cx="45.77" cy="449.38" r="0.82" fill="#111"/>
<circle cx="50.41" cy="416.16" r="0.82" fill="#111"/>
<circle cx="41.40" cy="480.49" r="0.82" fill="#111"/>
<circle cx="47.76" cy="399.86" r="0.82" fill="#111"/>
<circle cx="41.32" cy="429.07" r="0.82" fill="#111"/>
<circle cx="60.99" cy="448.44" r="0.82" fill="#111"/>
<circle cx="56.00" cy="435.33" r="0.82" fill="#111"/>
<circle cx="46.09" cy="426.36" r="0.82" fill="#111"/>
<circle cx="53.91" cy="440.98" r="0.82" fill="#111"/>
<circle cx="66.51" cy="412.68" r="0.82" fill="#111"/>
<circle cx="43.81" cy="462.56" r="0.82" fill="#111"/>
<circle cx="63.34" cy="455.75" r="0.82" fill="#111"/>
<circle cx="52.74" cy="415.55" r="0.82" fill="#111"/>
<circle cx="54.46" cy="443.56" r="0.82" fill="#111"/>
<circle cx="63.77" cy="468.60" r="0.82" fill="#111"/>
<circle cx="51.67" cy="418.18" r="0.82" fill="#111"/>
<circle cx="54.78" cy="403.85" r="0.82" fill="#111"/>
<circle cx="59.74" cy="456.58" r="0.82" fill="#111"/>
<circle cx="67.82" cy="482.39" r="0.82" fill="#111"/>
<circle cx="50.29" cy="448.02" r="0.82" fill="#111"/>
<circle cx="63.70" cy="448.41" r="0.82" fill="#111"/>
<circle cx="60.26" cy="452.52" r="0.82" fill="#111"/>
<circle cx="58.33" cy="405.53" r="0.82" fill="#111"/>
<circle cx="51.99" cy="472.64" r="0.82" fill="#111"/>
<circle cx="50.42" cy="409.51" r="0.82" fill="#111"/>
<circle cx="42.39" cy="479.31" r="0.82" fill="#111"/>
<circle cx="44.46" cy="466.02" r="0.82" fill="#111"/>
<circle cx="42.84" cy="426.87" r="0.82" fill="#111"/>
<circle cx="61.20" cy="413.15" r="0.82" fill="#111"/>
<circle cx="47.90" cy="420.59" r="0.82" fill="#111"/>
<circle cx="45.37" cy="434.77" r="0.82" fill="#111"/>
<circle cx="43.21" cy="440.37" r="0.82" fill="#111"/>
<circle cx="63.95" cy="440.09" r="0.82" fill="#111"/>
<circle cx="64.75" cy="428.42" r="0.82" fill="#111"/>
<circle cx="59.27" cy="449.16" r="0.82" fill="#111"/>
<circle cx="48.62" cy="436.64" r="0.82" fill="#111"/>
<circle cx="47.54" cy="428.49" r="0.82" fill="#111"/>
<circle cx="48.93" cy="444.28" r="0.82" fill="#111"/>
<circle cx="53.49" cy="423.21" r="0.82" fill="#111"/>
<circle cx="45.22" cy="428.68" r="0.82" fill="#111"/>
<circle cx="53.12" cy="388.81" r="0.82" fill="#111"/>
<circle cx="48.11" cy="435.33" r="0.82" fill="#111"/>
<circle cx="67.25" cy="517.90" r="0.82" fill="#111"/>
<circle cx="67.55" cy="520.20" r="0.82" fill="#111"/>
<circle cx="55.89" cy="388.64" r="0.82" fill="#111"/>
<circle cx="83.00" cy="434.75" r="0.82" fill="#111"/>
<circle cx="102.76" cy="433.61" r="0.82" fill="#111"/>
<circle cx="84.78" cy="426.17" r="0.82" fill="#111"/>
<circle cx="86.07" cy="406.78" r="0.82" fill="#111"/>
<circle cx="76.33" cy="432.87" r="0.82" fill="#111"/>
<circle cx="86.76" cy="417.91" r="0.82" fill="#111"/>
<circle cx="89.31" cy="478.99" r="0.82" fill="#111"/>
<circle cx="90.08" cy="449.16" r="0.82" fill="#111"/>
<circle cx="81.81" cy="420.85" r="0.82" fill="#111"/>
<circle cx="90.13" cy="417.65" r="0.82" fill="#111"/>
<circle cx="76.44" cy="420.96" r="0.82" fill="#111"/>
<circle cx="83.54" cy="434.82" r="0.82" fill="#111"/>
<circle cx="78.76" cy="412.34" r="0.82" fill="#111"/>
<circle cx="87.25" cy="420.06" r="0.82" fill="#111"/>
<circle cx="77.44" cy="436.71" r="0.82" fill="#111"/>
<circle cx="76.92" cy="418.55" r="0.82" fill="#111"/>
<circle cx="84.64" cy="437.37" r="0.82" fill="#111"/>
<circle cx="82.68" cy="427.96" r="0.82" fill="#111"/>
<circle cx="92.34" cy="430.57" r="0.82" fill="#111"/>
<circle cx="90.80" cy="427.20" r="0.82" fill="#111"/>
<circle cx="96.86" cy="482.37" r="0.82" fill="#111"/>
<circle cx="94.32" cy="435.98" r="0.82" fill="#111"/>
<circle cx="95.92" cy="405.02" r="0.82" fill="#111"/>
<circle cx="100.39" cy="450.09" r="0.82" fill="#111"/>
<circle cx="86.97" cy="427.28" r="0.82" fill="#111"/>
<circle cx="85.24" cy="406.16" r="0.82" fill="#111"/>
<circle cx="103.28" cy="408.18" r="0.82" fill="#111"/>
<circle cx="80.40" cy="395.04" r="0.82" fill="#111"/>
<circle cx="96.14" cy="461.12" r="0.82" fill="#111"/>
<circle cx="93.92" cy="433.21" r="0.82" fill="#111"/>
<circle cx="77.50" cy="432.96" r="0.82" fill="#111"/>
<circle cx="99.19" cy="413.00" r="0.82" fill="#111"/>
<circle cx="100.74" cy="403.30" r="0.82" fill="#111"/>
<circle cx="93.49" cy="481.43" r="0.82" fill="#111"/>
<circle cx="96.41" cy="403.36" r="0.82" fill="#111"/>
<circle cx="98.55" cy="455.86" r="0.82" fill="#111"/>
<circle cx="80.12" cy="411.76" r="0.82" fill="#111"/>
<circle cx="90.65" cy="456.79" r="0.82" fill="#111"/>
<circle cx="90.12" cy="422.26" r="0.82" fill="#111"/>
<circle cx="99.18" cy="401.17" r="0.82" fill="#111"/>
<circle cx="98.35" cy="428.99" r="0.82" fill="#111"/>
<circle cx="98.94" cy="421.94" r="0.82" fill="#111"/>
<circle cx="92.30" cy="409.40" r="0.82" fill="#111"/>
<circle cx="100.76" cy="422.97" r="0.82" fill="#111"/>
<circle cx="95.01" cy="427.73" r="0.82" fill="#111"/>
<circle cx="95.30" cy="394.16" r="0.82" fill="#111"/>
<circle cx="82.60" cy="404.20" r="0.82" fill="#111"/>
<circle cx="77.15" cy="431.98" r="0.82" fill="#111"/>
<circle cx="79.95" cy="449.64" r="0.82" fill="#111"/>
<circle cx="86.18" cy="406.97" r="0.82" fill="#111"/>
<circle cx="79.17" cy="431.40" r="0.82" fill="#111"/>
<circle cx="99.20" cy="423.16" r="0.82" fill="#111"/>
<circle cx="91.60" cy="411.31" r="0.82" fill="#111"/>
<circle cx="93.50" cy="421.30" r="0.82" fill="#111"/>
<circle cx="93.46" cy="412.68" r="0.82" fill="#111"/>
<circle cx="94.95" cy="457.52" r="0.82" fill="#111"/>
<circle cx="89.71" cy="457.15" r="0.82" fill="#111"/>
<circle cx="76.39" cy="413.17" r="0.82" fill="#111"/>
<circle cx="98.16" cy="445.84" r="0.82" fill="#111"/>
<circle cx="96.80" cy="447.15" r="0.82" fill="#111"/>
<circle cx="90.08" cy="456.33" r="0.82" fill="#111"/>
<circle cx="90.96" cy="399.69" r="0.82" fill="#111"/>
<circle cx="94.36" cy="410.45" r="0.82" fill="#111"/>
<circle cx="78.11" cy="395.41" r="0.82" fill="#111"/>
<circle cx="96.49" cy="445.31" r="0.82" fill="#111"/>
<circle cx="83.21" cy="425.88" r="0.82" fill="#111"/>
<circle cx="78.34" cy="449.50" r="0.82" fill="#111"/>
<circle cx="83.58" cy="410.04" r="0.82" fill="#111"/>
<circle cx="96.28" cy="393.00" r="0.82" fill="#111"/>
<circle cx="81.92" cy="444.33" r="0.82" fill="#111"/>
<circle cx="96.57" cy="393.60" r="0.82" fill="#111"/>
<circle cx="103.04" cy="405.45" r="0.82" fill="#111"/>
<circle cx="89.83" cy="429.58" r="0.82" fill="#111"/>
<circle cx="86.78" cy="466.72" r="0.82" fill="#111"/>
<circle cx="89.42" cy="396.78" r="0.82" fill="#111"/>
<circle cx="95.03" cy="427.89" r="0.82" fill="#111"/>
<circle cx="97.31" cy="438.38" r="0.82" fill="#111"/>
<circle cx="93.21" cy="417.63" r="0.82" fill="#111"/>
<circle cx="93.91" cy="417.41" r="0.82" fill="#111"/>
<circle cx="78.42" cy="394.89" r="0.82" fill="#111"/>
<circle cx="80.34" cy="447.02" r="0.82" fill="#111"/>
<circle cx="83.26" cy="402.38" r="0.82" fill="#111"/>
<circle cx="96.66" cy="395.11" r="0.82" fill="#111"/>
<circle cx="84.64" cy="395.84" r="0.82" fill="#111"/>
<circle cx="91.86" cy="429.64" r="0.82" fill="#111"/>
<circle cx="76.64" cy="441.30" r="0.82" fill="#111"/>
<circle cx="77.96" cy="404.82" r="0.82" fill="#111"/>
<circle cx="83.66" cy="423.52" r="0.82" fill="#111"/>
<circle cx="94.71" cy="423.33" r="0.82" fill="#111"/>
<circle cx="95.27" cy="396.42" r="0.82" fill="#111"/>
<circle cx="94.81" cy="431.35" r="0.82" fill="#111"/>
<circle cx="84.27" cy="473.44" r="0.82" fill="#111"/>
<circle cx="90.45" cy="433.91" r="0.82" fill="#111"/>
<circle cx="89.03" cy="464.28" r="0.82" fill="#111"/>
<circle cx="89.08" cy="408.95" r="0.82" fill="#111"/>
<circle cx="79.55" cy="419.34" r="0.82" fill="#111"/>
<circle cx="100.79" cy="438.55" r="0.82" fill="#111"/>
<circle cx="81.76" cy="426.10" r="0.82" fill="#111"/>
<circle cx="103.10" cy="408.66" r="0.82" fill="#111"/>
<circle cx="101.95" cy="424.27" r="0.82" fill="#111"/>
<circle cx="76.78" cy="398.44" r="0.82" fill="#111"/>
<circle cx="88.88" cy="427.17" r="0.82" fill="#111"/>
<circle cx="98.77" cy="404.37" r="0.82" fill="#111"/>
<circle cx="102.83" cy="395.03" r="0.82" fill="#111"/>
<circle cx="88.61" cy="392.58" r="0.82" fill="#111"/>
<circle cx="83.66" cy="439.81" r="0.82" fill="#111"/>
<circle cx="82.05" cy="407.69" r="0.82" fill="#111"/>
<circle cx="102.21" cy="464.73" r="0.82" fill="#111"/>
<circle cx="82.07" cy="448.33" r="0.82" fill="#111"/>
<circle cx="92.23" cy="466.53" r="0.82" fill="#111"/>
<circle cx="80.18" cy="403.77" r="0.82" fill="#111"/>
<circle cx="90.66" cy="451.40" r="0.82" fill="#111"/>
<circle cx="102.41" cy="426.16" r="0.82" fill="#111"/>
<circle cx="79.93" cy="429.88" r="0.82" fill="#111"/>
<circle cx="98.77" cy="426.49" r="0.82" fill="#111"/>
<circle cx="90.24" cy="438.14" r="0.82" fill="#111"/>
<circle cx="100.60" cy="421.06" r="0.82" fill="#111"/>
<circle cx="95.57" cy="424.98" r="0.82" fill="#111"/>
<circle cx="82.64" cy="414.91" r="0.82" fill="#111"/>
<circle cx="100.90" cy="405.19" r="0.82" fill="#111"/>
<circle cx="89.62" cy="430.00" r="0.82" fill="#111"/>
<circle cx="76.98" cy="451.98" r="0.82" fill="#111"/>
<circle cx="76.40" cy="437.40" r="0.82" fill="#111"/>
<circle cx="89.77" cy="403.68" r="0.82" fill="#111"/>
<circle cx="88.65" cy="459.98" r="0.82" fill="#111"/>
<circle cx="84.57" cy="438.28" r="0.82" fill="#111"/>
<circle cx="80.16" cy="405.05" r="0.82" fill="#111"/>
<circle cx="85.72" cy="409.49" r="0.82" fill="#111"/>
<circle cx="84.96" cy="425.74" r="0.82" fill="#111"/>
<circle cx="99.32" cy="409.23" r="0.82" fill="#111"/>
<circle cx="76.35" cy="422.46" r="0.82" fill="#111"/>
<circle cx="96.87" cy="450.30" r="0.82" fill="#111"/>
<circle cx="99.29" cy="458.27" r="0.82" fill="#111"/>
<circle cx="79.59" cy="439.13" r="0.82" fill="#111"/>
<circle cx="101.68" cy="406.80" r="0.82" fill="#111"/>
<circle cx="95.84" cy="437.61" r="0.82" fill="#111"/>
<circle cx="101.00" cy="444.58" r="0.82" fill="#111"/>
<circle cx="84.24" cy="441.86" r="0.82" fill="#111"/>
<circle cx="86.50" cy="457.61" r="0.82" fill="#111"/>
<circle cx="87.07" cy="428.33" r="0.82" fill="#111"/>
<rect x="33.4" y="381.8" width="77.6" height="147.99999999999994" fill="none" stroke="#4a4a4a" stroke-width="1.8"/>
<line x1="31.2" y1="396.00" x2="33.4" y2="396.00" stroke="#888" stroke-width="0.8"/>
<text transform="translate(30.00,399.60) scale(0.93,1)" text-anchor="end" font-family='"Liberation Sans", sans-serif' font-weight="bold" font-size="10.2" fill="#4D4D4D">50</text>
<line x1="31.2" y1="442.00" x2="33.4" y2="442.00" stroke="#888" stroke-width="0.8"/>
<text transform="translate(30.00,445.60) scale(0.93,1)" text-anchor="end" font-family='"Liberation Sans", sans-serif' font-weight="bold" font-size="10.2" fill="#4D4D4D">40</text>
<line x1="31.2" y1="488.00" x2="33.4" y2="488.00" stroke="#888" stroke-width="0.8"/>
<text transform="translate(30.00,491.60) scale(0.93,1)" text-anchor="end" font-family='"Liberation Sans", sans-serif' font-weight="bold" font-size="10.2" fill="#4D4D4D">30</text>
<line x1="54.6" y1="529.8" x2="54.6" y2="532.0" stroke="#888" stroke-width="0.8"/>
<text transform="translate(54.60,541.1) scale(0.95,1)" text-anchor="middle" font-family='"Liberation Sans", sans-serif' font-weight="bold" font-size="10.1" fill="#4D4D4D">BOT</text>
<line x1="90" y1="529.8" x2="90" y2="532.0" stroke="#888" stroke-width="0.8"/>
<text transform="translate(90.00,541.1) scale(0.95,1)" text-anchor="middle" font-family='"Liberation Sans", sans-serif' font-weight="bold" font-size="10.1" fill="#4D4D4D">OC</text>
<text transform="translate(44.78,377.30) scale(1.089,1)" font-family='"Liberation Serif", serif' font-weight="bold" font-size="10.65" fill="#111">Albumin</text>
<rect x="139.8" y="382.9" width="75.69999999999999" height="146.89999999999998" fill="#FFFFFF"/>
<line x1="139.8" y1="396.45" x2="215.5" y2="396.45" stroke="#D9D9D9" stroke-width="1"/>
<line x1="139.8" y1="431.55" x2="215.5" y2="431.55" stroke="#D9D9D9" stroke-width="1"/>
<line x1="139.8" y1="466.65" x2="215.5" y2="466.65" stroke="#D9D9D9" stroke-width="1"/>
<line x1="139.8" y1="501.75" x2="215.5" y2="501.75" stroke="#D9D9D9" stroke-width="1"/>
<line x1="139.8" y1="414.00" x2="215.5" y2="414.00" stroke="#D9D9D9" stroke-width="1"/>
<line x1="139.8" y1="449.10" x2="215.5" y2="449.10" stroke="#D9D9D9" stroke-width="1"/>
<line x1="139.8" y1="484.20" x2="215.5" y2="484.20" stroke="#D9D9D9" stroke-width="1"/>
<line x1="139.8" y1="519.30" x2="215.5" y2="519.30" stroke="#D9D9D9" stroke-width="1"/>
<line x1="160.6" y1="382.9" x2="160.6" y2="529.8" stroke="#D9D9D9" stroke-width="1"/>
<line x1="194.4" y1="382.9" x2="194.4" y2="529.8" stroke="#D9D9D9" stroke-width="1"/>
<line x1="160.6" y1="391.54" x2="160.6" y2="444.89" stroke="#7a7a7a" stroke-width="1.3"/>
<rect x="147.40" y="410.28" width="26.4" height="17.76" fill="#8E68A6"/>
<line x1="147.40" y1="419.83" x2="173.80" y2="419.83" stroke="#3a3a3a" stroke-width="1.3"/>
<line x1="194.4" y1="391.54" x2="194.4" y2="435.06" stroke="#7a7a7a" stroke-width="1.3"/>
<rect x="181.20" y="406.28" width="26.4" height="18.25" fill="#F2E86C"/>
<line x1="181.20" y1="414.00" x2="207.60" y2="414.00" stroke="#3a3a3a" stroke-width="1.3"/>
<circle cx="160.6" cy="458.23" r="1.45" fill="#1a1a1a"/>
<circle cx="160.6" cy="465.95" r="1.45" fill="#1a1a1a"/>
<circle cx="160.6" cy="470.86" r="1.45" fill="#1a1a1a"/>
<circle cx="160.6" cy="512.28" r="1.45" fill="#1a1a1a"/>
<circle cx="160.6" cy="514.39" r="1.45" fill="#1a1a1a"/>
<circle cx="160.6" cy="516.49" r="1.45" fill="#1a1a1a"/>
<circle cx="160.6" cy="518.60" r="1.45" fill="#1a1a1a"/>
<circle cx="160.6" cy="520.70" r="1.45" fill="#1a1a1a"/>
<circle cx="160.6" cy="510.88" r="1.45" fill="#1a1a1a"/>
<circle cx="160.6" cy="524.92" r="1.45" fill="#1a1a1a"/>
<circle cx="194.4" cy="510.17" r="1.45" fill="#1a1a1a"/>
<circle cx="194.4" cy="513.68" r="1.45" fill="#1a1a1a"/>
<circle cx="194.4" cy="515.79" r="1.45" fill="#1a1a1a"/>
<circle cx="194.4" cy="517.90" r="1.45" fill="#1a1a1a"/>
<circle cx="194.4" cy="522.11" r="1.45" fill="#1a1a1a"/>
<circle cx="158.13" cy="403.70" r="0.82" fill="#111"/>
<circle cx="154.66" cy="419.74" r="0.82" fill="#111"/>
<circle cx="155.33" cy="427.70" r="0.82" fill="#111"/>
<circle cx="173.02" cy="409.93" r="0.82" fill="#111"/>
<circle cx="155.46" cy="420.21" r="0.82" fill="#111"/>
<circle cx="162.42" cy="415.91" r="0.82" fill="#111"/>
<circle cx="156.69" cy="401.44" r="0.82" fill="#111"/>
<circle cx="158.31" cy="406.11" r="0.82" fill="#111"/>
<circle cx="170.58" cy="425.82" r="0.82" fill="#111"/>
<circle cx="174.21" cy="392.36" r="0.82" fill="#111"/>
<circle cx="156.87" cy="419.58" r="0.82" fill="#111"/>
<circle cx="152.30" cy="410.24" r="0.82" fill="#111"/>
<circle cx="166.85" cy="427.34" r="0.82" fill="#111"/>
<circle cx="152.48" cy="420.15" r="0.82" fill="#111"/>
<circle cx="147.06" cy="440.50" r="0.82" fill="#111"/>
<circle cx="171.60" cy="398.29" r="0.82" fill="#111"/>
<circle cx="158.51" cy="403.32" r="0.82" fill="#111"/>
<circle cx="169.38" cy="434.12" r="0.82" fill="#111"/>
<circle cx="158.03" cy="437.58" r="0.82" fill="#111"/>
<circle cx="171.09" cy="438.96" r="0.82" fill="#111"/>
<circle cx="159.53" cy="405.58" r="0.82" fill="#111"/>
<circle cx="151.35" cy="425.10" r="0.82" fill="#111"/>
<circle cx="147.31" cy="420.34" r="0.82" fill="#111"/>
<circle cx="162.01" cy="423.35" r="0.82" fill="#111"/>
<circle cx="164.45" cy="421.06" r="0.82" fill="#111"/>
<circle cx="171.83" cy="432.60" r="0.82" fill="#111"/>
<circle cx="149.34" cy="419.33" r="0.82" fill="#111"/>
<circle cx="163.95" cy="436.78" r="0.82" fill="#111"/>
<circle cx="157.06" cy="420.47" r="0.82" fill="#111"/>
<circle cx="160.72" cy="415.93" r="0.82" fill="#111"/>
<circle cx="150.90" cy="414.04" r="0.82" fill="#111"/>
<circle cx="154.66" cy="422.38" r="0.82" fill="#111"/>
<circle cx="161.18" cy="430.40" r="0.82" fill="#111"/>
<circle cx="172.26" cy="417.71" r="0.82" fill="#111"/>
<circle cx="149.88" cy="425.40" r="0.82" fill="#111"/>
<circle cx="160.34" cy="400.93" r="0.82" fill="#111"/>
<circle cx="168.95" cy="410.45" r="0.82" fill="#111"/>
<circle cx="173.39" cy="420.99" r="0.82" fill="#111"/>
<circle cx="152.31" cy="425.24" r="0.82" fill="#111"/>
<circle cx="150.37" cy="428.00" r="0.82" fill="#111"/>
<circle cx="172.74" cy="430.80" r="0.82" fill="#111"/>
<circle cx="173.63" cy="423.83" r="0.82" fill="#111"/>
<circle cx="160.13" cy="416.10" r="0.82" fill="#111"/>
<circle cx="148.36" cy="413.46" r="0.82" fill="#111"/>
<circle cx="172.28" cy="412.83" r="0.82" fill="#111"/>
<circle cx="157.53" cy="394.57" r="0.82" fill="#111"/>
<circle cx="171.68" cy="428.03" r="0.82" fill="#111"/>
<circle cx="163.90" cy="419.46" r="0.82" fill="#111"/>
<circle cx="169.49" cy="441.90" r="0.82" fill="#111"/>
<circle cx="151.29" cy="425.84" r="0.82" fill="#111"/>
<circle cx="168.43" cy="417.59" r="0.82" fill="#111"/>
<circle cx="152.98" cy="417.77" r="0.82" fill="#111"/>
<circle cx="157.98" cy="414.75" r="0.82" fill="#111"/>
<circle cx="170.09" cy="422.46" r="0.82" fill="#111"/>
<circle cx="169.62" cy="415.25" r="0.82" fill="#111"/>
<circle cx="151.91" cy="418.99" r="0.82" fill="#111"/>
<circle cx="152.88" cy="410.41" r="0.82" fill="#111"/>
<circle cx="157.85" cy="442.20" r="0.82" fill="#111"/>
<circle cx="161.09" cy="430.18" r="0.82" fill="#111"/>
<circle cx="157.41" cy="419.64" r="0.82" fill="#111"/>
<circle cx="150.27" cy="431.93" r="0.82" fill="#111"/>
<circle cx="153.67" cy="432.08" r="0.82" fill="#111"/>
<circle cx="166.76" cy="412.12" r="0.82" fill="#111"/>
<circle cx="171.49" cy="427.37" r="0.82" fill="#111"/>
<circle cx="148.03" cy="412.04" r="0.82" fill="#111"/>
<circle cx="162.31" cy="410.72" r="0.82" fill="#111"/>
<circle cx="167.65" cy="415.96" r="0.82" fill="#111"/>
<circle cx="147.94" cy="413.55" r="0.82" fill="#111"/>
<circle cx="169.87" cy="420.86" r="0.82" fill="#111"/>
<circle cx="150.13" cy="436.43" r="0.82" fill="#111"/>
<circle cx="163.33" cy="419.97" r="0.82" fill="#111"/>
<circle cx="161.97" cy="414.20" r="0.82" fill="#111"/>
<circle cx="164.08" cy="425.93" r="0.82" fill="#111"/>
<circle cx="155.29" cy="420.80" r="0.82" fill="#111"/>
<circle cx="158.41" cy="410.67" r="0.82" fill="#111"/>
<circle cx="162.86" cy="430.10" r="0.82" fill="#111"/>
<circle cx="158.57" cy="411.98" r="0.82" fill="#111"/>
<circle cx="164.95" cy="397.39" r="0.82" fill="#111"/>
<circle cx="159.14" cy="426.23" r="0.82" fill="#111"/>
<circle cx="158.91" cy="417.87" r="0.82" fill="#111"/>
<circle cx="147.54" cy="421.41" r="0.82" fill="#111"/>
<circle cx="163.86" cy="401.23" r="0.82" fill="#111"/>
<circle cx="160.31" cy="415.84" r="0.82" fill="#111"/>
<circle cx="153.35" cy="408.90" r="0.82" fill="#111"/>
<circle cx="167.82" cy="427.85" r="0.82" fill="#111"/>
<circle cx="168.27" cy="419.81" r="0.82" fill="#111"/>
<circle cx="159.46" cy="419.73" r="0.82" fill="#111"/>
<circle cx="151.82" cy="440.81" r="0.82" fill="#111"/>
<circle cx="159.87" cy="402.42" r="0.82" fill="#111"/>
<circle cx="149.83" cy="408.88" r="0.82" fill="#111"/>
<circle cx="150.42" cy="440.49" r="0.82" fill="#111"/>
<circle cx="158.70" cy="410.73" r="0.82" fill="#111"/>
<circle cx="149.41" cy="421.18" r="0.82" fill="#111"/>
<circle cx="159.01" cy="414.26" r="0.82" fill="#111"/>
<circle cx="160.88" cy="415.24" r="0.82" fill="#111"/>
<circle cx="148.02" cy="437.50" r="0.82" fill="#111"/>
<circle cx="164.34" cy="422.15" r="0.82" fill="#111"/>
<circle cx="149.15" cy="401.80" r="0.82" fill="#111"/>
<circle cx="167.00" cy="426.48" r="0.82" fill="#111"/>
<circle cx="168.21" cy="431.82" r="0.82" fill="#111"/>
<circle cx="160.91" cy="435.84" r="0.82" fill="#111"/>
<circle cx="148.39" cy="434.19" r="0.82" fill="#111"/>
<circle cx="160.71" cy="415.61" r="0.82" fill="#111"/>
<circle cx="157.25" cy="399.42" r="0.82" fill="#111"/>
<circle cx="172.95" cy="414.49" r="0.82" fill="#111"/>
<circle cx="150.63" cy="416.69" r="0.82" fill="#111"/>
<circle cx="170.38" cy="392.96" r="0.82" fill="#111"/>
<circle cx="174.19" cy="425.81" r="0.82" fill="#111"/>
<circle cx="166.96" cy="427.66" r="0.82" fill="#111"/>
<circle cx="169.23" cy="413.31" r="0.82" fill="#111"/>
<circle cx="152.21" cy="413.07" r="0.82" fill="#111"/>
<circle cx="173.80" cy="431.73" r="0.82" fill="#111"/>
<circle cx="160.38" cy="433.58" r="0.82" fill="#111"/>
<circle cx="173.11" cy="416.14" r="0.82" fill="#111"/>
<circle cx="172.00" cy="416.66" r="0.82" fill="#111"/>
<circle cx="151.42" cy="435.21" r="0.82" fill="#111"/>
<circle cx="168.50" cy="422.03" r="0.82" fill="#111"/>
<circle cx="172.40" cy="426.09" r="0.82" fill="#111"/>
<circle cx="148.70" cy="414.13" r="0.82" fill="#111"/>
<circle cx="156.51" cy="421.01" r="0.82" fill="#111"/>
<circle cx="167.62" cy="420.64" r="0.82" fill="#111"/>
<circle cx="151.25" cy="423.83" r="0.82" fill="#111"/>
<circle cx="171.47" cy="407.04" r="0.82" fill="#111"/>
<circle cx="154.43" cy="403.02" r="0.82" fill="#111"/>
<circle cx="169.25" cy="424.00" r="0.82" fill="#111"/>
<circle cx="150.83" cy="409.52" r="0.82" fill="#111"/>
<circle cx="160.66" cy="428.66" r="0.82" fill="#111"/>
<circle cx="172.11" cy="418.76" r="0.82" fill="#111"/>
<circle cx="152.61" cy="410.67" r="0.82" fill="#111"/>
<circle cx="154.10" cy="401.55" r="0.82" fill="#111"/>
<circle cx="160.76" cy="424.18" r="0.82" fill="#111"/>
<circle cx="155.64" cy="420.50" r="0.82" fill="#111"/>
<circle cx="147.91" cy="417.27" r="0.82" fill="#111"/>
<circle cx="151.89" cy="437.49" r="0.82" fill="#111"/>
<circle cx="151.32" cy="419.43" r="0.82" fill="#111"/>
<circle cx="172.56" cy="427.68" r="0.82" fill="#111"/>
<circle cx="165.52" cy="415.18" r="0.82" fill="#111"/>
<circle cx="171.43" cy="433.10" r="0.82" fill="#111"/>
<circle cx="151.52" cy="443.21" r="0.82" fill="#111"/>
<circle cx="168.41" cy="419.16" r="0.82" fill="#111"/>
<circle cx="150.05" cy="416.51" r="0.82" fill="#111"/>
<circle cx="161.44" cy="426.17" r="0.82" fill="#111"/>
<circle cx="164.34" cy="409.01" r="0.82" fill="#111"/>
<circle cx="156.76" cy="422.88" r="0.82" fill="#111"/>
<circle cx="170.82" cy="426.84" r="0.82" fill="#111"/>
<circle cx="162.11" cy="413.91" r="0.82" fill="#111"/>
<circle cx="162.79" cy="438.33" r="0.82" fill="#111"/>
<circle cx="171.08" cy="427.70" r="0.82" fill="#111"/>
<circle cx="149.77" cy="419.86" r="0.82" fill="#111"/>
<circle cx="174.11" cy="409.49" r="0.82" fill="#111"/>
<circle cx="164.16" cy="513.02" r="0.82" fill="#111"/>
<circle cx="157.70" cy="520.06" r="0.82" fill="#111"/>
<circle cx="168.76" cy="520.17" r="0.82" fill="#111"/>
<circle cx="154.15" cy="513.73" r="0.82" fill="#111"/>
<circle cx="174.04" cy="519.29" r="0.82" fill="#111"/>
<circle cx="162.72" cy="511.45" r="0.82" fill="#111"/>
<circle cx="156.77" cy="516.89" r="0.82" fill="#111"/>
<circle cx="167.85" cy="520.57" r="0.82" fill="#111"/>
<circle cx="159.02" cy="520.14" r="0.82" fill="#111"/>
<circle cx="151.74" cy="517.83" r="0.82" fill="#111"/>
<circle cx="167.27" cy="514.87" r="0.82" fill="#111"/>
<circle cx="148.22" cy="511.49" r="0.82" fill="#111"/>
<circle cx="169.36" cy="521.06" r="0.82" fill="#111"/>
<circle cx="153.85" cy="518.11" r="0.82" fill="#111"/>
<circle cx="164.42" cy="470.86" r="0.82" fill="#111"/>
<circle cx="207.66" cy="417.12" r="0.82" fill="#111"/>
<circle cx="196.75" cy="408.84" r="0.82" fill="#111"/>
<circle cx="198.89" cy="413.25" r="0.82" fill="#111"/>
<circle cx="189.27" cy="412.73" r="0.82" fill="#111"/>
<circle cx="180.75" cy="405.62" r="0.82" fill="#111"/>
<circle cx="181.63" cy="411.52" r="0.82" fill="#111"/>
<circle cx="184.79" cy="397.89" r="0.82" fill="#111"/>
<circle cx="197.58" cy="428.44" r="0.82" fill="#111"/>
<circle cx="192.54" cy="419.36" r="0.82" fill="#111"/>
<circle cx="194.75" cy="406.85" r="0.82" fill="#111"/>
<circle cx="205.24" cy="419.33" r="0.82" fill="#111"/>
<circle cx="184.32" cy="405.67" r="0.82" fill="#111"/>
<circle cx="186.93" cy="392.72" r="0.82" fill="#111"/>
<circle cx="198.60" cy="415.47" r="0.82" fill="#111"/>
<circle cx="181.31" cy="418.08" r="0.82" fill="#111"/>
<circle cx="180.77" cy="420.66" r="0.82" fill="#111"/>
<circle cx="190.43" cy="424.23" r="0.82" fill="#111"/>
<circle cx="183.61" cy="422.04" r="0.82" fill="#111"/>
<circle cx="190.49" cy="408.67" r="0.82" fill="#111"/>
<circle cx="186.84" cy="415.02" r="0.82" fill="#111"/>
<circle cx="196.69" cy="414.71" r="0.82" fill="#111"/>
<circle cx="196.84" cy="417.23" r="0.82" fill="#111"/>
<circle cx="186.29" cy="405.78" r="0.82" fill="#111"/>
<circle cx="197.80" cy="410.20" r="0.82" fill="#111"/>
<circle cx="193.71" cy="416.90" r="0.82" fill="#111"/>
<circle cx="184.39" cy="408.40" r="0.82" fill="#111"/>
<circle cx="206.36" cy="417.00" r="0.82" fill="#111"/>
<circle cx="187.37" cy="427.54" r="0.82" fill="#111"/>
<circle cx="184.79" cy="400.08" r="0.82" fill="#111"/>
<circle cx="183.33" cy="410.50" r="0.82" fill="#111"/>
<circle cx="198.19" cy="425.48" r="0.82" fill="#111"/>
<circle cx="204.57" cy="404.04" r="0.82" fill="#111"/>
<circle cx="202.13" cy="411.77" r="0.82" fill="#111"/>
<circle cx="191.71" cy="431.88" r="0.82" fill="#111"/>
<circle cx="187.94" cy="398.45" r="0.82" fill="#111"/>
<circle cx="181.01" cy="411.89" r="0.82" fill="#111"/>
<circle cx="198.37" cy="406.02" r="0.82" fill="#111"/>
<circle cx="196.11" cy="413.32" r="0.82" fill="#111"/>
<circle cx="190.30" cy="416.98" r="0.82" fill="#111"/>
<circle cx="198.39" cy="431.71" r="0.82" fill="#111"/>
<circle cx="192.86" cy="405.17" r="0.82" fill="#111"/>
<circle cx="206.38" cy="415.09" r="0.82" fill="#111"/>
<circle cx="200.80" cy="418.42" r="0.82" fill="#111"/>
<circle cx="187.51" cy="411.71" r="0.82" fill="#111"/>
<circle cx="205.46" cy="414.58" r="0.82" fill="#111"/>
<circle cx="181.91" cy="408.29" r="0.82" fill="#111"/>
<circle cx="195.26" cy="419.31" r="0.82" fill="#111"/>
<circle cx="191.82" cy="415.79" r="0.82" fill="#111"/>
<circle cx="187.21" cy="419.86" r="0.82" fill="#111"/>
<circle cx="182.30" cy="408.29" r="0.82" fill="#111"/>
<circle cx="202.04" cy="401.33" r="0.82" fill="#111"/>
<circle cx="181.04" cy="419.24" r="0.82" fill="#111"/>
<circle cx="195.80" cy="416.68" r="0.82" fill="#111"/>
<circle cx="206.48" cy="398.73" r="0.82" fill="#111"/>
<circle cx="184.60" cy="418.83" r="0.82" fill="#111"/>
<circle cx="186.17" cy="407.67" r="0.82" fill="#111"/>
<circle cx="197.36" cy="397.73" r="0.82" fill="#111"/>
<circle cx="194.59" cy="414.99" r="0.82" fill="#111"/>
<circle cx="198.28" cy="402.48" r="0.82" fill="#111"/>
<circle cx="202.99" cy="422.89" r="0.82" fill="#111"/>
<circle cx="185.49" cy="413.22" r="0.82" fill="#111"/>
<circle cx="189.18" cy="416.22" r="0.82" fill="#111"/>
<circle cx="188.93" cy="414.19" r="0.82" fill="#111"/>
<circle cx="182.03" cy="403.51" r="0.82" fill="#111"/>
<circle cx="205.07" cy="422.41" r="0.82" fill="#111"/>
<circle cx="202.15" cy="421.46" r="0.82" fill="#111"/>
<circle cx="200.30" cy="410.17" r="0.82" fill="#111"/>
<circle cx="180.87" cy="426.51" r="0.82" fill="#111"/>
<circle cx="203.84" cy="410.17" r="0.82" fill="#111"/>
<circle cx="201.12" cy="409.38" r="0.82" fill="#111"/>
<circle cx="193.45" cy="418.33" r="0.82" fill="#111"/>
<circle cx="201.02" cy="409.81" r="0.82" fill="#111"/>
<circle cx="193.10" cy="431.72" r="0.82" fill="#111"/>
<circle cx="186.89" cy="407.40" r="0.82" fill="#111"/>
<circle cx="183.58" cy="431.67" r="0.82" fill="#111"/>
<circle cx="187.06" cy="422.74" r="0.82" fill="#111"/>
<circle cx="181.76" cy="421.26" r="0.82" fill="#111"/>
<circle cx="189.89" cy="419.63" r="0.82" fill="#111"/>
<circle cx="201.24" cy="406.36" r="0.82" fill="#111"/>
<circle cx="199.75" cy="414.54" r="0.82" fill="#111"/>
<circle cx="203.86" cy="419.59" r="0.82" fill="#111"/>
<circle cx="200.20" cy="409.68" r="0.82" fill="#111"/>
<circle cx="187.99" cy="398.75" r="0.82" fill="#111"/>
<circle cx="195.87" cy="415.34" r="0.82" fill="#111"/>
<circle cx="192.65" cy="411.55" r="0.82" fill="#111"/>
<circle cx="202.30" cy="402.35" r="0.82" fill="#111"/>
<circle cx="195.04" cy="412.58" r="0.82" fill="#111"/>
<circle cx="187.97" cy="428.92" r="0.82" fill="#111"/>
<circle cx="198.29" cy="392.15" r="0.82" fill="#111"/>
<circle cx="207.14" cy="436.30" r="0.82" fill="#111"/>
<circle cx="186.65" cy="415.82" r="0.82" fill="#111"/>
<circle cx="204.81" cy="411.01" r="0.82" fill="#111"/>
<circle cx="181.12" cy="405.23" r="0.82" fill="#111"/>
<circle cx="187.83" cy="408.36" r="0.82" fill="#111"/>
<circle cx="187.17" cy="418.27" r="0.82" fill="#111"/>
<circle cx="201.08" cy="426.50" r="0.82" fill="#111"/>
<circle cx="206.58" cy="414.32" r="0.82" fill="#111"/>
<circle cx="201.14" cy="404.52" r="0.82" fill="#111"/>
<circle cx="189.66" cy="426.88" r="0.82" fill="#111"/>
<circle cx="204.82" cy="426.22" r="0.82" fill="#111"/>
<circle cx="189.70" cy="415.66" r="0.82" fill="#111"/>
<circle cx="187.25" cy="435.81" r="0.82" fill="#111"/>
<circle cx="205.57" cy="418.14" r="0.82" fill="#111"/>
<circle cx="197.98" cy="420.00" r="0.82" fill="#111"/>
<circle cx="199.68" cy="410.66" r="0.82" fill="#111"/>
<circle cx="198.93" cy="422.79" r="0.82" fill="#111"/>
<circle cx="207.52" cy="424.69" r="0.82" fill="#111"/>
<circle cx="193.56" cy="419.55" r="0.82" fill="#111"/>
<circle cx="203.71" cy="415.93" r="0.82" fill="#111"/>
<circle cx="199.81" cy="422.40" r="0.82" fill="#111"/>
<circle cx="204.20" cy="415.28" r="0.82" fill="#111"/>
<circle cx="192.68" cy="407.50" r="0.82" fill="#111"/>
<circle cx="200.55" cy="402.92" r="0.82" fill="#111"/>
<circle cx="196.33" cy="397.45" r="0.82" fill="#111"/>
<circle cx="189.13" cy="423.65" r="0.82" fill="#111"/>
<circle cx="186.51" cy="419.82" r="0.82" fill="#111"/>
<circle cx="197.76" cy="395.40" r="0.82" fill="#111"/>
<circle cx="182.83" cy="423.04" r="0.82" fill="#111"/>
<circle cx="205.66" cy="415.76" r="0.82" fill="#111"/>
<circle cx="184.66" cy="409.90" r="0.82" fill="#111"/>
<circle cx="181.44" cy="429.71" r="0.82" fill="#111"/>
<circle cx="183.62" cy="410.52" r="0.82" fill="#111"/>
<circle cx="206.15" cy="415.68" r="0.82" fill="#111"/>
<circle cx="190.15" cy="434.63" r="0.82" fill="#111"/>
<circle cx="184.59" cy="412.33" r="0.82" fill="#111"/>
<circle cx="181.49" cy="402.83" r="0.82" fill="#111"/>
<circle cx="181.84" cy="435.07" r="0.82" fill="#111"/>
<circle cx="199.68" cy="406.90" r="0.82" fill="#111"/>
<circle cx="198.07" cy="413.20" r="0.82" fill="#111"/>
<circle cx="199.80" cy="410.40" r="0.82" fill="#111"/>
<circle cx="200.89" cy="410.75" r="0.82" fill="#111"/>
<circle cx="182.50" cy="401.67" r="0.82" fill="#111"/>
<circle cx="196.88" cy="417.76" r="0.82" fill="#111"/>
<circle cx="190.66" cy="406.21" r="0.82" fill="#111"/>
<circle cx="203.10" cy="419.72" r="0.82" fill="#111"/>
<circle cx="203.16" cy="407.74" r="0.82" fill="#111"/>
<circle cx="205.12" cy="423.98" r="0.82" fill="#111"/>
<circle cx="182.51" cy="416.54" r="0.82" fill="#111"/>
<circle cx="204.48" cy="397.18" r="0.82" fill="#111"/>
<circle cx="205.75" cy="410.71" r="0.82" fill="#111"/>
<circle cx="206.57" cy="417.07" r="0.82" fill="#111"/>
<circle cx="183.63" cy="427.46" r="0.82" fill="#111"/>
<circle cx="186.34" cy="423.72" r="0.82" fill="#111"/>
<circle cx="183.77" cy="413.36" r="0.82" fill="#111"/>
<circle cx="181.64" cy="405.51" r="0.82" fill="#111"/>
<circle cx="203.93" cy="410.92" r="0.82" fill="#111"/>
<circle cx="202.95" cy="409.88" r="0.82" fill="#111"/>
<circle cx="198.08" cy="415.84" r="0.82" fill="#111"/>
<circle cx="203.31" cy="401.17" r="0.82" fill="#111"/>
<circle cx="198.00" cy="419.52" r="0.82" fill="#111"/>
<circle cx="188.57" cy="421.19" r="0.82" fill="#111"/>
<circle cx="183.44" cy="406.05" r="0.82" fill="#111"/>
<circle cx="183.38" cy="414.73" r="0.82" fill="#111"/>
<circle cx="201.45" cy="418.34" r="0.82" fill="#111"/>
<circle cx="186.32" cy="421.47" r="0.82" fill="#111"/>
<circle cx="189.44" cy="418.11" r="0.82" fill="#111"/>
<circle cx="192.31" cy="408.84" r="0.82" fill="#111"/>
<circle cx="181.27" cy="411.68" r="0.82" fill="#111"/>
<circle cx="187.73" cy="428.14" r="0.82" fill="#111"/>
<circle cx="188.44" cy="410.91" r="0.82" fill="#111"/>
<circle cx="200.31" cy="516.97" r="0.82" fill="#111"/>
<circle cx="190.78" cy="515.23" r="0.82" fill="#111"/>
<circle cx="189.49" cy="514.23" r="0.82" fill="#111"/>
<circle cx="207.11" cy="520.38" r="0.82" fill="#111"/>
<circle cx="194.50" cy="519.57" r="0.82" fill="#111"/>
<circle cx="204.03" cy="513.60" r="0.82" fill="#111"/>
<rect x="139.8" y="382.9" width="75.69999999999999" height="146.89999999999998" fill="none" stroke="#4a4a4a" stroke-width="1.8"/>
<line x1="137.60000000000002" y1="414.00" x2="139.8" y2="414.00" stroke="#888" stroke-width="0.8"/>
<text transform="translate(136.40,417.60) scale(0.93,1)" text-anchor="end" font-family='"Liberation Sans", sans-serif' font-weight="bold" font-size="10.2" fill="#4D4D4D">2.5</text>
<line x1="137.60000000000002" y1="449.10" x2="139.8" y2="449.10" stroke="#888" stroke-width="0.8"/>
<text transform="translate(136.40,452.70) scale(0.93,1)" text-anchor="end" font-family='"Liberation Sans", sans-serif' font-weight="bold" font-size="10.2" fill="#4D4D4D">2.0</text>
<line x1="137.60000000000002" y1="484.20" x2="139.8" y2="484.20" stroke="#888" stroke-width="0.8"/>
<text transform="translate(136.40,487.80) scale(0.93,1)" text-anchor="end" font-family='"Liberation Sans", sans-serif' font-weight="bold" font-size="10.2" fill="#4D4D4D">1.5</text>
<line x1="137.60000000000002" y1="519.30" x2="139.8" y2="519.30" stroke="#888" stroke-width="0.8"/>
<text transform="translate(136.40,522.90) scale(0.93,1)" text-anchor="end" font-family='"Liberation Sans", sans-serif' font-weight="bold" font-size="10.2" fill="#4D4D4D">1.0</text>
<line x1="160.6" y1="529.8" x2="160.6" y2="532.0" stroke="#888" stroke-width="0.8"/>
<text transform="translate(160.60,541.1) scale(0.95,1)" text-anchor="middle" font-family='"Liberation Sans", sans-serif' font-weight="bold" font-size="10.1" fill="#4D4D4D">BOT</text>
<line x1="194.4" y1="529.8" x2="194.4" y2="532.0" stroke="#888" stroke-width="0.8"/>
<text transform="translate(194.40,541.1) scale(0.95,1)" text-anchor="middle" font-family='"Liberation Sans", sans-serif' font-weight="bold" font-size="10.1" fill="#4D4D4D">OC</text>
<text transform="translate(154.31,377.30) scale(1.057,1)" font-family='"Liberation Serif", serif' font-weight="bold" font-size="11.08" fill="#111">Calcium</text>
<rect x="245.3" y="382.9" width="76.89999999999998" height="147.30000000000007" fill="#FFFFFF"/>
<line x1="245.3" y1="405.96" x2="322.2" y2="405.96" stroke="#D9D9D9" stroke-width="1"/>
<line x1="245.3" y1="443.40" x2="322.2" y2="443.40" stroke="#D9D9D9" stroke-width="1"/>
<line x1="245.3" y1="480.84" x2="322.2" y2="480.84" stroke="#D9D9D9" stroke-width="1"/>
<line x1="245.3" y1="518.28" x2="322.2" y2="518.28" stroke="#D9D9D9" stroke-width="1"/>
<line x1="245.3" y1="387.24" x2="322.2" y2="387.24" stroke="#D9D9D9" stroke-width="1"/>
<line x1="245.3" y1="424.68" x2="322.2" y2="424.68" stroke="#D9D9D9" stroke-width="1"/>
<line x1="245.3" y1="462.12" x2="322.2" y2="462.12" stroke="#D9D9D9" stroke-width="1"/>
<line x1="245.3" y1="499.56" x2="322.2" y2="499.56" stroke="#D9D9D9" stroke-width="1"/>
<line x1="266.6" y1="382.9" x2="266.6" y2="530.2" stroke="#D9D9D9" stroke-width="1"/>
<line x1="301.6" y1="382.9" x2="301.6" y2="530.2" stroke="#D9D9D9" stroke-width="1"/>
<line x1="266.6" y1="469.98" x2="266.6" y2="518.84" stroke="#7a7a7a" stroke-width="1.3"/>
<rect x="252.60" y="492.26" width="28" height="16.10" fill="#8E68A6"/>
<line x1="252.60" y1="500.31" x2="280.60" y2="500.31" stroke="#3a3a3a" stroke-width="1.3"/>
<line x1="301.6" y1="480.47" x2="301.6" y2="522.02" stroke="#7a7a7a" stroke-width="1.3"/>
<rect x="287.60" y="499.00" width="28" height="12.73" fill="#F2E86C"/>
<line x1="287.60" y1="505.74" x2="315.60" y2="505.74" stroke="#3a3a3a" stroke-width="1.3"/>
<circle cx="266.6" cy="417.19" r="1.45" fill="#1a1a1a"/>
<circle cx="266.6" cy="439.66" r="1.45" fill="#1a1a1a"/>
<circle cx="266.6" cy="441.53" r="1.45" fill="#1a1a1a"/>
<circle cx="266.6" cy="443.40" r="1.45" fill="#1a1a1a"/>
<circle cx="266.6" cy="447.14" r="1.45" fill="#1a1a1a"/>
<circle cx="266.6" cy="449.02" r="1.45" fill="#1a1a1a"/>
<circle cx="266.6" cy="450.89" r="1.45" fill="#1a1a1a"/>
<circle cx="266.6" cy="452.76" r="1.45" fill="#1a1a1a"/>
<circle cx="266.6" cy="454.63" r="1.45" fill="#1a1a1a"/>
<circle cx="266.6" cy="458.38" r="1.45" fill="#1a1a1a"/>
<circle cx="266.6" cy="462.12" r="1.45" fill="#1a1a1a"/>
<circle cx="266.6" cy="463.99" r="1.45" fill="#1a1a1a"/>
<circle cx="266.6" cy="465.86" r="1.45" fill="#1a1a1a"/>
<circle cx="266.6" cy="467.74" r="1.45" fill="#1a1a1a"/>
<circle cx="301.6" cy="390.98" r="1.45" fill="#1a1a1a"/>
<circle cx="301.6" cy="458.38" r="1.45" fill="#1a1a1a"/>
<circle cx="272.67" cy="498.49" r="0.82" fill="#111"/>
<circle cx="265.46" cy="502.57" r="0.82" fill="#111"/>
<circle cx="279.14" cy="502.40" r="0.82" fill="#111"/>
<circle cx="259.47" cy="510.77" r="0.82" fill="#111"/>
<circle cx="280.07" cy="494.24" r="0.82" fill="#111"/>
<circle cx="272.90" cy="499.00" r="0.82" fill="#111"/>
<circle cx="252.43" cy="510.75" r="0.82" fill="#111"/>
<circle cx="252.53" cy="504.42" r="0.82" fill="#111"/>
<circle cx="270.97" cy="513.89" r="0.82" fill="#111"/>
<circle cx="275.80" cy="495.83" r="0.82" fill="#111"/>
<circle cx="254.41" cy="478.62" r="0.82" fill="#111"/>
<circle cx="261.12" cy="483.00" r="0.82" fill="#111"/>
<circle cx="273.25" cy="489.26" r="0.82" fill="#111"/>
<circle cx="256.91" cy="500.22" r="0.82" fill="#111"/>
<circle cx="277.07" cy="499.99" r="0.82" fill="#111"/>
<circle cx="266.20" cy="494.85" r="0.82" fill="#111"/>
<circle cx="253.83" cy="482.32" r="0.82" fill="#111"/>
<circle cx="262.76" cy="499.46" r="0.82" fill="#111"/>
<circle cx="268.77" cy="500.64" r="0.82" fill="#111"/>
<circle cx="264.82" cy="513.54" r="0.82" fill="#111"/>
<circle cx="271.73" cy="499.74" r="0.82" fill="#111"/>
<circle cx="256.30" cy="498.42" r="0.82" fill="#111"/>
<circle cx="275.22" cy="507.36" r="0.82" fill="#111"/>
<circle cx="262.63" cy="510.86" r="0.82" fill="#111"/>
<circle cx="270.80" cy="500.14" r="0.82" fill="#111"/>
<circle cx="270.36" cy="496.20" r="0.82" fill="#111"/>
<circle cx="264.22" cy="508.09" r="0.82" fill="#111"/>
<circle cx="263.29" cy="491.88" r="0.82" fill="#111"/>
<circle cx="274.90" cy="503.67" r="0.82" fill="#111"/>
<circle cx="279.50" cy="496.67" r="0.82" fill="#111"/>
<circle cx="274.85" cy="483.51" r="0.82" fill="#111"/>
<circle cx="268.54" cy="505.92" r="0.82" fill="#111"/>
<circle cx="260.58" cy="500.44" r="0.82" fill="#111"/>
<circle cx="253.86" cy="503.51" r="0.82" fill="#111"/>
<circle cx="280.34" cy="503.99" r="0.82" fill="#111"/>
<circle cx="272.49" cy="496.40" r="0.82" fill="#111"/>
<circle cx="276.09" cy="517.37" r="0.82" fill="#111"/>
<circle cx="261.73" cy="496.86" r="0.82" fill="#111"/>
<circle cx="269.67" cy="515.87" r="0.82" fill="#111"/>
<circle cx="280.45" cy="507.50" r="0.82" fill="#111"/>
<circle cx="276.21" cy="491.53" r="0.82" fill="#111"/>
<circle cx="269.53" cy="519.12" r="0.82" fill="#111"/>
<circle cx="261.05" cy="485.97" r="0.82" fill="#111"/>
<circle cx="264.53" cy="480.34" r="0.82" fill="#111"/>
<circle cx="277.86" cy="488.37" r="0.82" fill="#111"/>
<circle cx="263.02" cy="492.96" r="0.82" fill="#111"/>
<circle cx="271.96" cy="499.29" r="0.82" fill="#111"/>
<circle cx="269.55" cy="502.50" r="0.82" fill="#111"/>
<circle cx="278.09" cy="476.41" r="0.82" fill="#111"/>
<circle cx="275.52" cy="511.47" r="0.82" fill="#111"/>
<circle cx="260.32" cy="500.58" r="0.82" fill="#111"/>
<circle cx="252.15" cy="494.39" r="0.82" fill="#111"/>
<circle cx="259.73" cy="505.95" r="0.82" fill="#111"/>
<circle cx="264.35" cy="513.91" r="0.82" fill="#111"/>
<circle cx="269.11" cy="497.13" r="0.82" fill="#111"/>
<circle cx="275.76" cy="499.97" r="0.82" fill="#111"/>
<circle cx="277.84" cy="519.27" r="0.82" fill="#111"/>
<circle cx="253.33" cy="506.80" r="0.82" fill="#111"/>
<circle cx="276.26" cy="508.76" r="0.82" fill="#111"/>
<circle cx="275.64" cy="503.52" r="0.82" fill="#111"/>
<circle cx="277.25" cy="494.71" r="0.82" fill="#111"/>
<circle cx="268.69" cy="491.36" r="0.82" fill="#111"/>
<circle cx="260.04" cy="514.29" r="0.82" fill="#111"/>
<circle cx="276.78" cy="500.84" r="0.82" fill="#111"/>
<circle cx="275.50" cy="507.33" r="0.82" fill="#111"/>
<circle cx="271.95" cy="518.44" r="0.82" fill="#111"/>
<circle cx="278.60" cy="493.24" r="0.82" fill="#111"/>
<circle cx="262.16" cy="505.62" r="0.82" fill="#111"/>
<circle cx="254.57" cy="503.28" r="0.82" fill="#111"/>
<circle cx="268.16" cy="494.97" r="0.82" fill="#111"/>
<circle cx="275.22" cy="499.94" r="0.82" fill="#111"/>
<circle cx="257.91" cy="493.19" r="0.82" fill="#111"/>
<circle cx="273.86" cy="506.06" r="0.82" fill="#111"/>
<circle cx="279.12" cy="483.90" r="0.82" fill="#111"/>
<circle cx="258.89" cy="496.88" r="0.82" fill="#111"/>
<circle cx="269.70" cy="505.91" r="0.82" fill="#111"/>
<circle cx="271.75" cy="495.78" r="0.82" fill="#111"/>
<circle cx="265.59" cy="493.46" r="0.82" fill="#111"/>
<circle cx="258.09" cy="506.81" r="0.82" fill="#111"/>
<circle cx="259.49" cy="488.39" r="0.82" fill="#111"/>
<circle cx="273.88" cy="495.18" r="0.82" fill="#111"/>
<circle cx="275.06" cy="492.01" r="0.82" fill="#111"/>
<circle cx="265.43" cy="489.13" r="0.82" fill="#111"/>
<circle cx="254.64" cy="472.16" r="0.82" fill="#111"/>
<circle cx="275.49" cy="501.19" r="0.82" fill="#111"/>
<circle cx="274.49" cy="505.65" r="0.82" fill="#111"/>
<circle cx="258.85" cy="495.44" r="0.82" fill="#111"/>
<circle cx="268.91" cy="501.71" r="0.82" fill="#111"/>
<circle cx="278.11" cy="479.05" r="0.82" fill="#111"/>
<circle cx="277.77" cy="495.41" r="0.82" fill="#111"/>
<circle cx="267.23" cy="518.04" r="0.82" fill="#111"/>
<circle cx="265.92" cy="507.31" r="0.82" fill="#111"/>
<circle cx="269.19" cy="497.54" r="0.82" fill="#111"/>
<circle cx="257.59" cy="503.95" r="0.82" fill="#111"/>
<circle cx="257.68" cy="504.57" r="0.82" fill="#111"/>
<circle cx="257.34" cy="497.49" r="0.82" fill="#111"/>
<circle cx="272.43" cy="489.77" r="0.82" fill="#111"/>
<circle cx="262.62" cy="489.42" r="0.82" fill="#111"/>
<circle cx="268.47" cy="498.10" r="0.82" fill="#111"/>
<circle cx="263.77" cy="496.10" r="0.82" fill="#111"/>
<circle cx="267.10" cy="517.20" r="0.82" fill="#111"/>
<circle cx="256.42" cy="516.39" r="0.82" fill="#111"/>
<circle cx="253.39" cy="500.54" r="0.82" fill="#111"/>
<circle cx="281.02" cy="506.54" r="0.82" fill="#111"/>
<circle cx="262.95" cy="499.08" r="0.82" fill="#111"/>
<circle cx="255.18" cy="509.59" r="0.82" fill="#111"/>
<circle cx="270.45" cy="507.43" r="0.82" fill="#111"/>
<circle cx="274.93" cy="501.89" r="0.82" fill="#111"/>
<circle cx="256.63" cy="513.77" r="0.82" fill="#111"/>
<circle cx="269.42" cy="494.25" r="0.82" fill="#111"/>
<circle cx="262.10" cy="500.56" r="0.82" fill="#111"/>
<circle cx="267.16" cy="512.24" r="0.82" fill="#111"/>
<circle cx="252.70" cy="498.08" r="0.82" fill="#111"/>
<circle cx="253.07" cy="482.68" r="0.82" fill="#111"/>
<circle cx="280.82" cy="486.37" r="0.82" fill="#111"/>
<circle cx="277.22" cy="513.75" r="0.82" fill="#111"/>
<circle cx="266.20" cy="507.28" r="0.82" fill="#111"/>
<circle cx="268.55" cy="507.38" r="0.82" fill="#111"/>
<circle cx="259.69" cy="515.04" r="0.82" fill="#111"/>
<circle cx="274.70" cy="509.82" r="0.82" fill="#111"/>
<circle cx="264.45" cy="497.72" r="0.82" fill="#111"/>
<circle cx="279.55" cy="504.03" r="0.82" fill="#111"/>
<circle cx="274.35" cy="504.17" r="0.82" fill="#111"/>
<circle cx="275.85" cy="517.66" r="0.82" fill="#111"/>
<circle cx="280.04" cy="491.00" r="0.82" fill="#111"/>
<circle cx="259.47" cy="504.13" r="0.82" fill="#111"/>
<circle cx="253.20" cy="515.90" r="0.82" fill="#111"/>
<circle cx="257.93" cy="500.50" r="0.82" fill="#111"/>
<circle cx="257.34" cy="488.71" r="0.82" fill="#111"/>
<circle cx="254.53" cy="515.54" r="0.82" fill="#111"/>
<circle cx="253.58" cy="496.15" r="0.82" fill="#111"/>
<circle cx="268.26" cy="514.68" r="0.82" fill="#111"/>
<circle cx="277.35" cy="491.41" r="0.82" fill="#111"/>
<circle cx="265.39" cy="494.03" r="0.82" fill="#111"/>
<circle cx="279.57" cy="503.53" r="0.82" fill="#111"/>
<circle cx="278.49" cy="511.50" r="0.82" fill="#111"/>
<circle cx="253.96" cy="516.58" r="0.82" fill="#111"/>
<circle cx="269.44" cy="510.47" r="0.82" fill="#111"/>
<circle cx="263.62" cy="492.11" r="0.82" fill="#111"/>
<circle cx="255.58" cy="497.40" r="0.82" fill="#111"/>
<circle cx="279.92" cy="500.99" r="0.82" fill="#111"/>
<circle cx="259.56" cy="506.90" r="0.82" fill="#111"/>
<circle cx="268.47" cy="502.29" r="0.82" fill="#111"/>
<circle cx="270.68" cy="495.20" r="0.82" fill="#111"/>
<circle cx="279.84" cy="505.64" r="0.82" fill="#111"/>
<circle cx="271.52" cy="501.12" r="0.82" fill="#111"/>
<circle cx="263.50" cy="513.00" r="0.82" fill="#111"/>
<circle cx="265.10" cy="506.83" r="0.82" fill="#111"/>
<circle cx="256.73" cy="503.24" r="0.82" fill="#111"/>
<circle cx="280.11" cy="513.67" r="0.82" fill="#111"/>
<circle cx="280.86" cy="514.03" r="0.82" fill="#111"/>
<circle cx="258.53" cy="516.70" r="0.82" fill="#111"/>
<circle cx="253.22" cy="511.93" r="0.82" fill="#111"/>
<circle cx="259.52" cy="502.06" r="0.82" fill="#111"/>
<circle cx="262.31" cy="493.19" r="0.82" fill="#111"/>
<circle cx="278.28" cy="502.97" r="0.82" fill="#111"/>
<circle cx="278.33" cy="504.99" r="0.82" fill="#111"/>
<circle cx="276.38" cy="510.77" r="0.82" fill="#111"/>
<circle cx="253.46" cy="500.04" r="0.82" fill="#111"/>
<circle cx="274.90" cy="506.22" r="0.82" fill="#111"/>
<circle cx="272.68" cy="490.02" r="0.82" fill="#111"/>
<circle cx="270.85" cy="501.52" r="0.82" fill="#111"/>
<circle cx="280.68" cy="492.06" r="0.82" fill="#111"/>
<circle cx="253.72" cy="497.36" r="0.82" fill="#111"/>
<circle cx="256.30" cy="501.98" r="0.82" fill="#111"/>
<circle cx="273.99" cy="499.41" r="0.82" fill="#111"/>
<circle cx="279.34" cy="510.73" r="0.82" fill="#111"/>
<circle cx="271.73" cy="494.75" r="0.82" fill="#111"/>
<circle cx="260.76" cy="503.84" r="0.82" fill="#111"/>
<circle cx="269.25" cy="510.41" r="0.82" fill="#111"/>
<circle cx="274.08" cy="501.26" r="0.82" fill="#111"/>
<circle cx="255.16" cy="492.52" r="0.82" fill="#111"/>
<circle cx="261.49" cy="501.92" r="0.82" fill="#111"/>
<circle cx="259.55" cy="508.28" r="0.82" fill="#111"/>
<circle cx="255.70" cy="501.83" r="0.82" fill="#111"/>
<circle cx="266.06" cy="496.93" r="0.82" fill="#111"/>
<circle cx="256.99" cy="511.12" r="0.82" fill="#111"/>
<circle cx="259.02" cy="499.10" r="0.82" fill="#111"/>
<circle cx="256.25" cy="494.75" r="0.82" fill="#111"/>
<circle cx="271.75" cy="497.09" r="0.82" fill="#111"/>
<circle cx="252.47" cy="508.90" r="0.82" fill="#111"/>
<circle cx="272.90" cy="509.94" r="0.82" fill="#111"/>
<circle cx="257.76" cy="507.93" r="0.82" fill="#111"/>
<circle cx="253.14" cy="503.55" r="0.82" fill="#111"/>
<circle cx="279.00" cy="490.28" r="0.82" fill="#111"/>
<circle cx="258.50" cy="502.86" r="0.82" fill="#111"/>
<circle cx="279.19" cy="513.85" r="0.82" fill="#111"/>
<circle cx="277.24" cy="516.39" r="0.82" fill="#111"/>
<circle cx="277.87" cy="495.40" r="0.82" fill="#111"/>
<circle cx="256.15" cy="512.04" r="0.82" fill="#111"/>
<circle cx="265.07" cy="460.79" r="0.82" fill="#111"/>
<circle cx="254.91" cy="453.19" r="0.82" fill="#111"/>
<circle cx="279.03" cy="465.86" r="0.82" fill="#111"/>
<circle cx="276.53" cy="444.64" r="0.82" fill="#111"/>
<circle cx="270.32" cy="458.98" r="0.82" fill="#111"/>
<circle cx="265.22" cy="444.13" r="0.82" fill="#111"/>
<circle cx="261.95" cy="461.60" r="0.82" fill="#111"/>
<circle cx="275.97" cy="458.34" r="0.82" fill="#111"/>
<circle cx="265.95" cy="462.01" r="0.82" fill="#111"/>
<circle cx="270.32" cy="456.85" r="0.82" fill="#111"/>
<circle cx="256.24" cy="464.04" r="0.82" fill="#111"/>
<circle cx="258.53" cy="469.53" r="0.82" fill="#111"/>
<circle cx="253.75" cy="447.99" r="0.82" fill="#111"/>
<circle cx="272.80" cy="461.19" r="0.82" fill="#111"/>
<circle cx="268.15" cy="462.27" r="0.82" fill="#111"/>
<circle cx="256.30" cy="460.57" r="0.82" fill="#111"/>
<circle cx="277.35" cy="417.19" r="0.82" fill="#111"/>
<circle cx="294.83" cy="515.56" r="0.82" fill="#111"/>
<circle cx="299.04" cy="504.47" r="0.82" fill="#111"/>
<circle cx="291.61" cy="514.67" r="0.82" fill="#111"/>
<circle cx="294.96" cy="516.17" r="0.82" fill="#111"/>
<circle cx="311.45" cy="519.70" r="0.82" fill="#111"/>
<circle cx="296.80" cy="489.37" r="0.82" fill="#111"/>
<circle cx="291.97" cy="503.78" r="0.82" fill="#111"/>
<circle cx="301.34" cy="508.28" r="0.82" fill="#111"/>
<circle cx="296.32" cy="496.17" r="0.82" fill="#111"/>
<circle cx="313.29" cy="523.69" r="0.82" fill="#111"/>
<circle cx="290.41" cy="504.64" r="0.82" fill="#111"/>
<circle cx="315.48" cy="510.77" r="0.82" fill="#111"/>
<circle cx="288.75" cy="499.25" r="0.82" fill="#111"/>
<circle cx="313.06" cy="517.30" r="0.82" fill="#111"/>
<circle cx="306.48" cy="504.32" r="0.82" fill="#111"/>
<circle cx="293.22" cy="505.60" r="0.82" fill="#111"/>
<circle cx="300.95" cy="492.69" r="0.82" fill="#111"/>
<circle cx="295.40" cy="509.82" r="0.82" fill="#111"/>
<circle cx="294.58" cy="505.74" r="0.82" fill="#111"/>
<circle cx="292.95" cy="501.41" r="0.82" fill="#111"/>
<circle cx="297.66" cy="501.48" r="0.82" fill="#111"/>
<circle cx="315.84" cy="500.40" r="0.82" fill="#111"/>
<circle cx="316.04" cy="504.32" r="0.82" fill="#111"/>
<circle cx="313.93" cy="514.25" r="0.82" fill="#111"/>
<circle cx="289.93" cy="494.10" r="0.82" fill="#111"/>
<circle cx="295.49" cy="489.14" r="0.82" fill="#111"/>
<circle cx="313.09" cy="504.27" r="0.82" fill="#111"/>
<circle cx="288.77" cy="511.22" r="0.82" fill="#111"/>
<circle cx="308.17" cy="495.80" r="0.82" fill="#111"/>
<circle cx="295.61" cy="513.84" r="0.82" fill="#111"/>
<circle cx="315.48" cy="503.02" r="0.82" fill="#111"/>
<circle cx="287.56" cy="519.38" r="0.82" fill="#111"/>
<circle cx="310.50" cy="492.78" r="0.82" fill="#111"/>
<circle cx="296.99" cy="515.93" r="0.82" fill="#111"/>
<circle cx="291.16" cy="502.45" r="0.82" fill="#111"/>
<circle cx="287.16" cy="511.00" r="0.82" fill="#111"/>
<circle cx="311.24" cy="509.79" r="0.82" fill="#111"/>
<circle cx="302.37" cy="516.52" r="0.82" fill="#111"/>
<circle cx="292.49" cy="506.25" r="0.82" fill="#111"/>
<circle cx="299.72" cy="515.78" r="0.82" fill="#111"/>
<circle cx="313.55" cy="496.92" r="0.82" fill="#111"/>
<circle cx="293.43" cy="513.74" r="0.82" fill="#111"/>
<circle cx="303.67" cy="506.36" r="0.82" fill="#111"/>
<circle cx="291.10" cy="498.93" r="0.82" fill="#111"/>
<circle cx="292.32" cy="498.75" r="0.82" fill="#111"/>
<circle cx="309.44" cy="497.36" r="0.82" fill="#111"/>
<circle cx="307.74" cy="495.94" r="0.82" fill="#111"/>
<circle cx="292.80" cy="501.97" r="0.82" fill="#111"/>
<circle cx="289.40" cy="499.04" r="0.82" fill="#111"/>
<circle cx="289.64" cy="497.16" r="0.82" fill="#111"/>
<circle cx="304.75" cy="517.39" r="0.82" fill="#111"/>
<circle cx="301.47" cy="505.60" r="0.82" fill="#111"/>
<circle cx="295.04" cy="505.04" r="0.82" fill="#111"/>
<circle cx="293.07" cy="506.56" r="0.82" fill="#111"/>
<circle cx="304.86" cy="500.06" r="0.82" fill="#111"/>
<circle cx="307.62" cy="514.59" r="0.82" fill="#111"/>
<circle cx="310.64" cy="518.53" r="0.82" fill="#111"/>
<circle cx="304.01" cy="511.04" r="0.82" fill="#111"/>
<circle cx="292.97" cy="500.85" r="0.82" fill="#111"/>
<circle cx="289.01" cy="513.38" r="0.82" fill="#111"/>
<circle cx="308.35" cy="494.11" r="0.82" fill="#111"/>
<circle cx="298.94" cy="493.88" r="0.82" fill="#111"/>
<circle cx="308.03" cy="499.66" r="0.82" fill="#111"/>
<circle cx="288.71" cy="507.21" r="0.82" fill="#111"/>
<circle cx="310.61" cy="507.44" r="0.82" fill="#111"/>
<circle cx="296.82" cy="516.68" r="0.82" fill="#111"/>
<circle cx="311.52" cy="514.75" r="0.82" fill="#111"/>
<circle cx="312.17" cy="498.12" r="0.82" fill="#111"/>
<circle cx="301.40" cy="509.24" r="0.82" fill="#111"/>
<circle cx="287.55" cy="494.62" r="0.82" fill="#111"/>
<circle cx="313.50" cy="507.02" r="0.82" fill="#111"/>
<circle cx="300.92" cy="525.63" r="0.82" fill="#111"/>
<circle cx="312.39" cy="503.82" r="0.82" fill="#111"/>
<circle cx="294.82" cy="491.18" r="0.82" fill="#111"/>
<circle cx="292.50" cy="502.59" r="0.82" fill="#111"/>
<circle cx="311.22" cy="511.75" r="0.82" fill="#111"/>
<circle cx="297.75" cy="511.77" r="0.82" fill="#111"/>
<circle cx="291.84" cy="499.97" r="0.82" fill="#111"/>
<circle cx="297.86" cy="512.56" r="0.82" fill="#111"/>
<circle cx="304.35" cy="517.02" r="0.82" fill="#111"/>
<circle cx="287.23" cy="503.92" r="0.82" fill="#111"/>
<circle cx="302.17" cy="504.91" r="0.82" fill="#111"/>
<circle cx="300.03" cy="512.12" r="0.82" fill="#111"/>
<circle cx="302.05" cy="514.74" r="0.82" fill="#111"/>
<circle cx="290.60" cy="501.85" r="0.82" fill="#111"/>
<circle cx="307.82" cy="522.26" r="0.82" fill="#111"/>
<circle cx="310.78" cy="511.57" r="0.82" fill="#111"/>
<circle cx="312.20" cy="510.41" r="0.82" fill="#111"/>
<circle cx="296.41" cy="488.82" r="0.82" fill="#111"/>
<circle cx="307.72" cy="514.85" r="0.82" fill="#111"/>
<circle cx="298.16" cy="499.44" r="0.82" fill="#111"/>
<circle cx="308.89" cy="507.25" r="0.82" fill="#111"/>
<circle cx="288.88" cy="494.72" r="0.82" fill="#111"/>
<circle cx="312.41" cy="492.26" r="0.82" fill="#111"/>
<circle cx="314.77" cy="507.87" r="0.82" fill="#111"/>
<circle cx="301.45" cy="503.55" r="0.82" fill="#111"/>
<circle cx="301.99" cy="513.84" r="0.82" fill="#111"/>
<circle cx="302.48" cy="508.97" r="0.82" fill="#111"/>
<circle cx="302.68" cy="498.54" r="0.82" fill="#111"/>
<circle cx="287.70" cy="517.11" r="0.82" fill="#111"/>
<circle cx="315.16" cy="512.60" r="0.82" fill="#111"/>
<circle cx="293.59" cy="505.17" r="0.82" fill="#111"/>
<circle cx="292.39" cy="508.35" r="0.82" fill="#111"/>
<circle cx="290.08" cy="509.07" r="0.82" fill="#111"/>
<circle cx="294.36" cy="524.94" r="0.82" fill="#111"/>
<circle cx="310.80" cy="508.61" r="0.82" fill="#111"/>
<circle cx="287.97" cy="506.58" r="0.82" fill="#111"/>
<circle cx="289.90" cy="506.06" r="0.82" fill="#111"/>
<circle cx="307.37" cy="504.74" r="0.82" fill="#111"/>
<circle cx="292.76" cy="497.96" r="0.82" fill="#111"/>
<circle cx="287.61" cy="486.11" r="0.82" fill="#111"/>
<circle cx="304.48" cy="516.37" r="0.82" fill="#111"/>
<circle cx="303.82" cy="514.39" r="0.82" fill="#111"/>
<circle cx="302.26" cy="500.75" r="0.82" fill="#111"/>
<circle cx="307.48" cy="525.66" r="0.82" fill="#111"/>
<circle cx="290.08" cy="515.63" r="0.82" fill="#111"/>
<circle cx="312.32" cy="514.11" r="0.82" fill="#111"/>
<circle cx="307.90" cy="515.84" r="0.82" fill="#111"/>
<circle cx="288.41" cy="516.07" r="0.82" fill="#111"/>
<circle cx="290.67" cy="517.37" r="0.82" fill="#111"/>
<circle cx="301.41" cy="513.79" r="0.82" fill="#111"/>
<circle cx="301.62" cy="502.50" r="0.82" fill="#111"/>
<circle cx="295.21" cy="492.24" r="0.82" fill="#111"/>
<circle cx="290.64" cy="521.06" r="0.82" fill="#111"/>
<circle cx="298.86" cy="501.59" r="0.82" fill="#111"/>
<circle cx="291.07" cy="500.98" r="0.82" fill="#111"/>
<circle cx="304.26" cy="502.22" r="0.82" fill="#111"/>
<circle cx="312.07" cy="490.02" r="0.82" fill="#111"/>
<circle cx="291.37" cy="502.02" r="0.82" fill="#111"/>
<circle cx="303.71" cy="494.01" r="0.82" fill="#111"/>
<circle cx="308.75" cy="512.76" r="0.82" fill="#111"/>
<circle cx="291.87" cy="517.56" r="0.82" fill="#111"/>
<circle cx="311.05" cy="492.96" r="0.82" fill="#111"/>
<circle cx="314.29" cy="503.00" r="0.82" fill="#111"/>
<circle cx="298.37" cy="517.45" r="0.82" fill="#111"/>
<circle cx="299.29" cy="506.14" r="0.82" fill="#111"/>
<circle cx="311.45" cy="497.81" r="0.82" fill="#111"/>
<circle cx="302.34" cy="512.96" r="0.82" fill="#111"/>
<circle cx="298.57" cy="501.87" r="0.82" fill="#111"/>
<circle cx="314.40" cy="517.90" r="0.82" fill="#111"/>
<circle cx="309.63" cy="500.08" r="0.82" fill="#111"/>
<circle cx="296.92" cy="502.87" r="0.82" fill="#111"/>
<circle cx="294.07" cy="507.00" r="0.82" fill="#111"/>
<circle cx="296.82" cy="508.16" r="0.82" fill="#111"/>
<circle cx="299.73" cy="506.83" r="0.82" fill="#111"/>
<circle cx="315.56" cy="493.21" r="0.82" fill="#111"/>
<circle cx="310.43" cy="494.14" r="0.82" fill="#111"/>
<circle cx="313.57" cy="524.40" r="0.82" fill="#111"/>
<circle cx="310.74" cy="515.29" r="0.82" fill="#111"/>
<circle cx="311.68" cy="507.23" r="0.82" fill="#111"/>
<circle cx="288.65" cy="505.22" r="0.82" fill="#111"/>
<circle cx="302.10" cy="515.25" r="0.82" fill="#111"/>
<circle cx="314.88" cy="497.58" r="0.82" fill="#111"/>
<circle cx="314.20" cy="481.41" r="0.82" fill="#111"/>
<circle cx="294.33" cy="515.77" r="0.82" fill="#111"/>
<circle cx="299.34" cy="515.28" r="0.82" fill="#111"/>
<circle cx="305.45" cy="504.25" r="0.82" fill="#111"/>
<circle cx="297.67" cy="494.95" r="0.82" fill="#111"/>
<circle cx="302.49" cy="497.69" r="0.82" fill="#111"/>
<circle cx="289.11" cy="504.48" r="0.82" fill="#111"/>
<circle cx="299.66" cy="500.52" r="0.82" fill="#111"/>
<circle cx="301.74" cy="504.83" r="0.82" fill="#111"/>
<circle cx="287.70" cy="505.65" r="0.82" fill="#111"/>
<circle cx="291.14" cy="507.67" r="0.82" fill="#111"/>
<circle cx="315.22" cy="510.10" r="0.82" fill="#111"/>
<circle cx="309.62" cy="501.81" r="0.82" fill="#111"/>
<circle cx="314.27" cy="506.58" r="0.82" fill="#111"/>
<circle cx="305.46" cy="502.38" r="0.82" fill="#111"/>
<circle cx="310.57" cy="509.33" r="0.82" fill="#111"/>
<circle cx="312.75" cy="490.91" r="0.82" fill="#111"/>
<circle cx="312.75" cy="504.07" r="0.82" fill="#111"/>
<circle cx="288.10" cy="505.00" r="0.82" fill="#111"/>
<circle cx="305.71" cy="490.53" r="0.82" fill="#111"/>
<circle cx="294.81" cy="504.59" r="0.82" fill="#111"/>
<circle cx="306.77" cy="502.96" r="0.82" fill="#111"/>
<circle cx="295.03" cy="503.51" r="0.82" fill="#111"/>
<circle cx="302.83" cy="520.37" r="0.82" fill="#111"/>
<circle cx="313.91" cy="496.42" r="0.82" fill="#111"/>
<circle cx="305.12" cy="517.67" r="0.82" fill="#111"/>
<circle cx="294.37" cy="494.37" r="0.82" fill="#111"/>
<circle cx="302.19" cy="390.98" r="0.82" fill="#111"/>
<circle cx="299.68" cy="458.38" r="0.82" fill="#111"/>
<rect x="245.3" y="382.9" width="76.89999999999998" height="147.30000000000007" fill="none" stroke="#4a4a4a" stroke-width="1.8"/>
<line x1="243.10000000000002" y1="387.24" x2="245.3" y2="387.24" stroke="#888" stroke-width="0.8"/>
<text transform="translate(241.90,390.84) scale(0.93,1)" text-anchor="end" font-family='"Liberation Sans", sans-serif' font-weight="bold" font-size="10.2" fill="#4D4D4D">80</text>
<line x1="243.10000000000002" y1="424.68" x2="245.3" y2="424.68" stroke="#888" stroke-width="0.8"/>
<text transform="translate(241.90,428.28) scale(0.93,1)" text-anchor="end" font-family='"Liberation Sans", sans-serif' font-weight="bold" font-size="10.2" fill="#4D4D4D">60</text>
<line x1="243.10000000000002" y1="462.12" x2="245.3" y2="462.12" stroke="#888" stroke-width="0.8"/>
<text transform="translate(241.90,465.72) scale(0.93,1)" text-anchor="end" font-family='"Liberation Sans", sans-serif' font-weight="bold" font-size="10.2" fill="#4D4D4D">40</text>
<line x1="243.10000000000002" y1="499.56" x2="245.3" y2="499.56" stroke="#888" stroke-width="0.8"/>
<text transform="translate(241.90,503.16) scale(0.93,1)" text-anchor="end" font-family='"Liberation Sans", sans-serif' font-weight="bold" font-size="10.2" fill="#4D4D4D">20</text>
<line x1="266.6" y1="530.2" x2="266.6" y2="532.4000000000001" stroke="#888" stroke-width="0.8"/>
<text transform="translate(266.60,541.1) scale(0.95,1)" text-anchor="middle" font-family='"Liberation Sans", sans-serif' font-weight="bold" font-size="10.1" fill="#4D4D4D">BOT</text>
<line x1="301.6" y1="530.2" x2="301.6" y2="532.4000000000001" stroke="#888" stroke-width="0.8"/>
<text transform="translate(301.60,541.1) scale(0.95,1)" text-anchor="middle" font-family='"Liberation Sans", sans-serif' font-weight="bold" font-size="10.1" fill="#4D4D4D">OC</text>
<text transform="translate(255.68,365.70) scale(1.062,1)" font-family='"Liberation Serif", serif' font-weight="bold" font-size="10.91" fill="#111">Aspartate</text>
<text transform="translate(246.21,377.20) scale(0.960,1)" font-family='"Liberation Serif", serif' font-weight="bold" font-size="12.34" fill="#111">aminotransferase</text>
<rect x="349.3" y="382.9" width="78.19999999999999" height="148.30000000000007" fill="#FFFFFF"/>
<line x1="349.3" y1="406.75" x2="427.5" y2="406.75" stroke="#D9D9D9" stroke-width="1"/>
<line x1="349.3" y1="456.85" x2="427.5" y2="456.85" stroke="#D9D9D9" stroke-width="1"/>
<line x1="349.3" y1="506.95" x2="427.5" y2="506.95" stroke="#D9D9D9" stroke-width="1"/>
<line x1="349.3" y1="431.80" x2="427.5" y2="431.80" stroke="#D9D9D9" stroke-width="1"/>
<line x1="349.3" y1="481.90" x2="427.5" y2="481.90" stroke="#D9D9D9" stroke-width="1"/>
<line x1="349.3" y1="532.00" x2="427.5" y2="532.00" stroke="#D9D9D9" stroke-width="1"/>
<line x1="371.1" y1="382.9" x2="371.1" y2="531.2" stroke="#D9D9D9" stroke-width="1"/>
<line x1="405.9" y1="382.9" x2="405.9" y2="531.2" stroke="#D9D9D9" stroke-width="1"/>
<line x1="371.1" y1="483.40" x2="371.1" y2="520.98" stroke="#7a7a7a" stroke-width="1.3"/>
<rect x="357.30" y="498.58" width="27.6" height="13.83" fill="#8E68A6"/>
<line x1="357.30" y1="505.70" x2="384.90" y2="505.70" stroke="#3a3a3a" stroke-width="1.3"/>
<line x1="405.9" y1="472.38" x2="405.9" y2="527.99" stroke="#7a7a7a" stroke-width="1.3"/>
<rect x="392.10" y="493.02" width="27.6" height="13.68" fill="#F2E86C"/>
<line x1="392.10" y1="500.29" x2="419.70" y2="500.29" stroke="#3a3a3a" stroke-width="1.3"/>
<circle cx="371.1" cy="451.84" r="1.45" fill="#1a1a1a"/>
<circle cx="371.1" cy="453.34" r="1.45" fill="#1a1a1a"/>
<circle cx="371.1" cy="466.87" r="1.45" fill="#1a1a1a"/>
<circle cx="371.1" cy="469.88" r="1.45" fill="#1a1a1a"/>
<circle cx="371.1" cy="477.89" r="1.45" fill="#1a1a1a"/>
<circle cx="405.9" cy="391.72" r="1.45" fill="#1a1a1a"/>
<circle cx="405.9" cy="431.80" r="1.45" fill="#1a1a1a"/>
<circle cx="405.9" cy="444.32" r="1.45" fill="#1a1a1a"/>
<circle cx="405.9" cy="457.85" r="1.45" fill="#1a1a1a"/>
<circle cx="405.9" cy="461.86" r="1.45" fill="#1a1a1a"/>
<circle cx="405.9" cy="471.88" r="1.45" fill="#1a1a1a"/>
<circle cx="379.84" cy="498.32" r="0.82" fill="#111"/>
<circle cx="364.27" cy="497.59" r="0.82" fill="#111"/>
<circle cx="372.43" cy="507.95" r="0.82" fill="#111"/>
<circle cx="384.53" cy="510.38" r="0.82" fill="#111"/>
<circle cx="375.03" cy="491.84" r="0.82" fill="#111"/>
<circle cx="372.36" cy="495.66" r="0.82" fill="#111"/>
<circle cx="363.94" cy="496.21" r="0.82" fill="#111"/>
<circle cx="358.50" cy="493.87" r="0.82" fill="#111"/>
<circle cx="367.03" cy="508.73" r="0.82" fill="#111"/>
<circle cx="368.57" cy="506.74" r="0.82" fill="#111"/>
<circle cx="362.56" cy="494.29" r="0.82" fill="#111"/>
<circle cx="365.68" cy="511.00" r="0.82" fill="#111"/>
<circle cx="360.71" cy="506.65" r="0.82" fill="#111"/>
<circle cx="377.02" cy="501.66" r="0.82" fill="#111"/>
<circle cx="375.97" cy="501.71" r="0.82" fill="#111"/>
<circle cx="363.60" cy="508.22" r="0.82" fill="#111"/>
<circle cx="363.71" cy="495.59" r="0.82" fill="#111"/>
<circle cx="371.54" cy="507.23" r="0.82" fill="#111"/>
<circle cx="369.53" cy="498.18" r="0.82" fill="#111"/>
<circle cx="383.57" cy="494.72" r="0.82" fill="#111"/>
<circle cx="366.85" cy="498.84" r="0.82" fill="#111"/>
<circle cx="365.36" cy="498.10" r="0.82" fill="#111"/>
<circle cx="382.10" cy="517.07" r="0.82" fill="#111"/>
<circle cx="360.86" cy="518.58" r="0.82" fill="#111"/>
<circle cx="372.91" cy="511.65" r="0.82" fill="#111"/>
<circle cx="366.34" cy="500.69" r="0.82" fill="#111"/>
<circle cx="380.12" cy="490.41" r="0.82" fill="#111"/>
<circle cx="372.48" cy="517.70" r="0.82" fill="#111"/>
<circle cx="378.55" cy="502.37" r="0.82" fill="#111"/>
<circle cx="361.64" cy="514.01" r="0.82" fill="#111"/>
<circle cx="375.86" cy="512.78" r="0.82" fill="#111"/>
<circle cx="373.92" cy="508.22" r="0.82" fill="#111"/>
<circle cx="369.99" cy="498.52" r="0.82" fill="#111"/>
<circle cx="378.71" cy="503.31" r="0.82" fill="#111"/>
<circle cx="380.57" cy="493.63" r="0.82" fill="#111"/>
<circle cx="360.07" cy="515.32" r="0.82" fill="#111"/>
<circle cx="365.08" cy="496.54" r="0.82" fill="#111"/>
<circle cx="367.11" cy="496.13" r="0.82" fill="#111"/>
<circle cx="362.70" cy="504.75" r="0.82" fill="#111"/>
<circle cx="358.53" cy="500.67" r="0.82" fill="#111"/>
<circle cx="364.83" cy="511.09" r="0.82" fill="#111"/>
<circle cx="362.44" cy="516.37" r="0.82" fill="#111"/>
<circle cx="376.87" cy="509.51" r="0.82" fill="#111"/>
<circle cx="369.61" cy="511.89" r="0.82" fill="#111"/>
<circle cx="360.03" cy="510.31" r="0.82" fill="#111"/>
<circle cx="366.08" cy="488.91" r="0.82" fill="#111"/>
<circle cx="370.20" cy="503.42" r="0.82" fill="#111"/>
<circle cx="367.18" cy="502.32" r="0.82" fill="#111"/>
<circle cx="361.61" cy="498.00" r="0.82" fill="#111"/>
<circle cx="358.85" cy="513.25" r="0.82" fill="#111"/>
<circle cx="357.11" cy="496.26" r="0.82" fill="#111"/>
<circle cx="385.17" cy="501.68" r="0.82" fill="#111"/>
<circle cx="378.26" cy="520.64" r="0.82" fill="#111"/>
<circle cx="359.20" cy="499.42" r="0.82" fill="#111"/>
<circle cx="377.31" cy="499.91" r="0.82" fill="#111"/>
<circle cx="384.83" cy="500.91" r="0.82" fill="#111"/>
<circle cx="372.92" cy="489.57" r="0.82" fill="#111"/>
<circle cx="359.91" cy="509.60" r="0.82" fill="#111"/>
<circle cx="370.78" cy="500.32" r="0.82" fill="#111"/>
<circle cx="369.22" cy="497.95" r="0.82" fill="#111"/>
<circle cx="362.23" cy="514.47" r="0.82" fill="#111"/>
<circle cx="372.33" cy="493.43" r="0.82" fill="#111"/>
<circle cx="357.04" cy="519.98" r="0.82" fill="#111"/>
<circle cx="383.10" cy="518.47" r="0.82" fill="#111"/>
<circle cx="375.23" cy="500.21" r="0.82" fill="#111"/>
<circle cx="374.75" cy="516.36" r="0.82" fill="#111"/>
<circle cx="383.55" cy="506.61" r="0.82" fill="#111"/>
<circle cx="375.46" cy="521.93" r="0.82" fill="#111"/>
<circle cx="363.99" cy="504.75" r="0.82" fill="#111"/>
<circle cx="363.84" cy="516.80" r="0.82" fill="#111"/>
<circle cx="360.77" cy="502.02" r="0.82" fill="#111"/>
<circle cx="357.59" cy="520.80" r="0.82" fill="#111"/>
<circle cx="378.95" cy="500.95" r="0.82" fill="#111"/>
<circle cx="380.81" cy="508.12" r="0.82" fill="#111"/>
<circle cx="365.27" cy="504.80" r="0.82" fill="#111"/>
<circle cx="362.11" cy="506.12" r="0.82" fill="#111"/>
<circle cx="375.05" cy="504.14" r="0.82" fill="#111"/>
<circle cx="380.99" cy="518.69" r="0.82" fill="#111"/>
<circle cx="383.30" cy="505.11" r="0.82" fill="#111"/>
<circle cx="361.62" cy="514.82" r="0.82" fill="#111"/>
<circle cx="379.24" cy="510.00" r="0.82" fill="#111"/>
<circle cx="380.55" cy="501.17" r="0.82" fill="#111"/>
<circle cx="378.03" cy="513.09" r="0.82" fill="#111"/>
<circle cx="366.14" cy="511.56" r="0.82" fill="#111"/>
<circle cx="362.08" cy="516.04" r="0.82" fill="#111"/>
<circle cx="380.40" cy="502.17" r="0.82" fill="#111"/>
<circle cx="365.96" cy="506.85" r="0.82" fill="#111"/>
<circle cx="367.34" cy="513.67" r="0.82" fill="#111"/>
<circle cx="372.56" cy="515.31" r="0.82" fill="#111"/>
<circle cx="367.36" cy="497.36" r="0.82" fill="#111"/>
<circle cx="380.58" cy="512.05" r="0.82" fill="#111"/>
<circle cx="363.65" cy="499.58" r="0.82" fill="#111"/>
<circle cx="357.98" cy="500.94" r="0.82" fill="#111"/>
<circle cx="373.01" cy="516.30" r="0.82" fill="#111"/>
<circle cx="374.77" cy="505.42" r="0.82" fill="#111"/>
<circle cx="380.24" cy="502.02" r="0.82" fill="#111"/>
<circle cx="376.98" cy="497.63" r="0.82" fill="#111"/>
<circle cx="382.69" cy="497.41" r="0.82" fill="#111"/>
<circle cx="383.83" cy="495.08" r="0.82" fill="#111"/>
<circle cx="370.94" cy="509.19" r="0.82" fill="#111"/>
<circle cx="371.09" cy="507.56" r="0.82" fill="#111"/>
<circle cx="361.30" cy="497.67" r="0.82" fill="#111"/>
<circle cx="365.37" cy="509.71" r="0.82" fill="#111"/>
<circle cx="373.42" cy="494.86" r="0.82" fill="#111"/>
<circle cx="359.09" cy="521.37" r="0.82" fill="#111"/>
<circle cx="376.48" cy="498.90" r="0.82" fill="#111"/>
<circle cx="361.48" cy="507.18" r="0.82" fill="#111"/>
<circle cx="369.48" cy="495.63" r="0.82" fill="#111"/>
<circle cx="384.54" cy="502.33" r="0.82" fill="#111"/>
<circle cx="359.36" cy="505.24" r="0.82" fill="#111"/>
<circle cx="357.94" cy="516.23" r="0.82" fill="#111"/>
<circle cx="369.37" cy="510.11" r="0.82" fill="#111"/>
<circle cx="362.26" cy="490.30" r="0.82" fill="#111"/>
<circle cx="377.48" cy="513.74" r="0.82" fill="#111"/>
<circle cx="356.88" cy="514.03" r="0.82" fill="#111"/>
<circle cx="380.85" cy="517.47" r="0.82" fill="#111"/>
<circle cx="381.26" cy="506.77" r="0.82" fill="#111"/>
<circle cx="379.31" cy="509.39" r="0.82" fill="#111"/>
<circle cx="368.97" cy="514.59" r="0.82" fill="#111"/>
<circle cx="364.90" cy="513.88" r="0.82" fill="#111"/>
<circle cx="375.72" cy="494.95" r="0.82" fill="#111"/>
<circle cx="371.52" cy="519.90" r="0.82" fill="#111"/>
<circle cx="368.85" cy="485.84" r="0.82" fill="#111"/>
<circle cx="366.49" cy="510.90" r="0.82" fill="#111"/>
<circle cx="369.35" cy="516.40" r="0.82" fill="#111"/>
<circle cx="375.85" cy="497.56" r="0.82" fill="#111"/>
<circle cx="380.43" cy="499.79" r="0.82" fill="#111"/>
<circle cx="382.65" cy="515.90" r="0.82" fill="#111"/>
<circle cx="361.50" cy="497.94" r="0.82" fill="#111"/>
<circle cx="365.26" cy="514.70" r="0.82" fill="#111"/>
<circle cx="369.47" cy="494.16" r="0.82" fill="#111"/>
<circle cx="372.91" cy="508.01" r="0.82" fill="#111"/>
<circle cx="366.76" cy="518.49" r="0.82" fill="#111"/>
<circle cx="362.39" cy="500.30" r="0.82" fill="#111"/>
<circle cx="359.23" cy="496.26" r="0.82" fill="#111"/>
<circle cx="366.06" cy="505.67" r="0.82" fill="#111"/>
<circle cx="369.97" cy="508.92" r="0.82" fill="#111"/>
<circle cx="384.58" cy="501.26" r="0.82" fill="#111"/>
<circle cx="382.79" cy="497.74" r="0.82" fill="#111"/>
<circle cx="381.55" cy="486.88" r="0.82" fill="#111"/>
<circle cx="384.67" cy="507.98" r="0.82" fill="#111"/>
<circle cx="384.31" cy="510.28" r="0.82" fill="#111"/>
<circle cx="374.53" cy="505.83" r="0.82" fill="#111"/>
<circle cx="380.00" cy="493.36" r="0.82" fill="#111"/>
<circle cx="358.52" cy="514.88" r="0.82" fill="#111"/>
<circle cx="376.15" cy="492.37" r="0.82" fill="#111"/>
<circle cx="374.22" cy="497.46" r="0.82" fill="#111"/>
<circle cx="365.30" cy="512.22" r="0.82" fill="#111"/>
<circle cx="373.13" cy="500.85" r="0.82" fill="#111"/>
<circle cx="384.05" cy="498.55" r="0.82" fill="#111"/>
<circle cx="370.55" cy="517.30" r="0.82" fill="#111"/>
<circle cx="375.31" cy="506.31" r="0.82" fill="#111"/>
<circle cx="365.36" cy="503.04" r="0.82" fill="#111"/>
<circle cx="366.62" cy="499.56" r="0.82" fill="#111"/>
<circle cx="382.11" cy="514.77" r="0.82" fill="#111"/>
<circle cx="357.60" cy="515.38" r="0.82" fill="#111"/>
<circle cx="362.20" cy="480.00" r="0.82" fill="#111"/>
<circle cx="376.21" cy="507.37" r="0.82" fill="#111"/>
<circle cx="369.59" cy="507.68" r="0.82" fill="#111"/>
<circle cx="359.24" cy="520.42" r="0.82" fill="#111"/>
<circle cx="375.69" cy="496.13" r="0.82" fill="#111"/>
<circle cx="367.44" cy="510.80" r="0.82" fill="#111"/>
<circle cx="373.41" cy="491.06" r="0.82" fill="#111"/>
<circle cx="368.71" cy="496.91" r="0.82" fill="#111"/>
<circle cx="371.96" cy="505.24" r="0.82" fill="#111"/>
<circle cx="372.95" cy="498.16" r="0.82" fill="#111"/>
<circle cx="368.14" cy="516.59" r="0.82" fill="#111"/>
<circle cx="360.07" cy="508.71" r="0.82" fill="#111"/>
<circle cx="361.96" cy="511.22" r="0.82" fill="#111"/>
<circle cx="382.25" cy="518.17" r="0.82" fill="#111"/>
<circle cx="372.48" cy="505.28" r="0.82" fill="#111"/>
<circle cx="360.01" cy="506.90" r="0.82" fill="#111"/>
<circle cx="381.46" cy="491.06" r="0.82" fill="#111"/>
<circle cx="364.05" cy="512.18" r="0.82" fill="#111"/>
<circle cx="359.52" cy="514.65" r="0.82" fill="#111"/>
<circle cx="371.98" cy="510.10" r="0.82" fill="#111"/>
<circle cx="363.99" cy="501.22" r="0.82" fill="#111"/>
<circle cx="370.79" cy="501.40" r="0.82" fill="#111"/>
<circle cx="372.65" cy="505.16" r="0.82" fill="#111"/>
<circle cx="363.28" cy="510.20" r="0.82" fill="#111"/>
<circle cx="373.18" cy="478.89" r="0.82" fill="#111"/>
<circle cx="360.03" cy="476.77" r="0.82" fill="#111"/>
<circle cx="371.48" cy="466.19" r="0.82" fill="#111"/>
<circle cx="373.63" cy="457.16" r="0.82" fill="#111"/>
<circle cx="359.09" cy="463.47" r="0.82" fill="#111"/>
<circle cx="403.27" cy="498.50" r="0.82" fill="#111"/>
<circle cx="393.70" cy="503.80" r="0.82" fill="#111"/>
<circle cx="404.17" cy="480.22" r="0.82" fill="#111"/>
<circle cx="416.30" cy="498.39" r="0.82" fill="#111"/>
<circle cx="407.35" cy="508.01" r="0.82" fill="#111"/>
<circle cx="412.04" cy="483.55" r="0.82" fill="#111"/>
<circle cx="413.25" cy="504.20" r="0.82" fill="#111"/>
<circle cx="394.88" cy="494.36" r="0.82" fill="#111"/>
<circle cx="419.93" cy="500.49" r="0.82" fill="#111"/>
<circle cx="412.24" cy="494.69" r="0.82" fill="#111"/>
<circle cx="394.52" cy="487.41" r="0.82" fill="#111"/>
<circle cx="415.34" cy="508.58" r="0.82" fill="#111"/>
<circle cx="402.81" cy="507.27" r="0.82" fill="#111"/>
<circle cx="396.50" cy="489.69" r="0.82" fill="#111"/>
<circle cx="419.06" cy="502.85" r="0.82" fill="#111"/>
<circle cx="407.70" cy="497.39" r="0.82" fill="#111"/>
<circle cx="413.76" cy="488.17" r="0.82" fill="#111"/>
<circle cx="395.51" cy="509.61" r="0.82" fill="#111"/>
<circle cx="413.80" cy="487.93" r="0.82" fill="#111"/>
<circle cx="393.25" cy="503.05" r="0.82" fill="#111"/>
<circle cx="398.38" cy="506.29" r="0.82" fill="#111"/>
<circle cx="402.25" cy="505.92" r="0.82" fill="#111"/>
<circle cx="392.03" cy="474.31" r="0.82" fill="#111"/>
<circle cx="408.60" cy="492.67" r="0.82" fill="#111"/>
<circle cx="397.70" cy="493.81" r="0.82" fill="#111"/>
<circle cx="400.18" cy="507.86" r="0.82" fill="#111"/>
<circle cx="411.83" cy="482.87" r="0.82" fill="#111"/>
<circle cx="403.78" cy="512.52" r="0.82" fill="#111"/>
<circle cx="417.01" cy="505.12" r="0.82" fill="#111"/>
<circle cx="409.37" cy="485.16" r="0.82" fill="#111"/>
<circle cx="416.54" cy="486.88" r="0.82" fill="#111"/>
<circle cx="407.70" cy="503.29" r="0.82" fill="#111"/>
<circle cx="417.84" cy="491.76" r="0.82" fill="#111"/>
<circle cx="416.50" cy="502.61" r="0.82" fill="#111"/>
<circle cx="396.40" cy="514.06" r="0.82" fill="#111"/>
<circle cx="412.92" cy="488.22" r="0.82" fill="#111"/>
<circle cx="401.36" cy="498.16" r="0.82" fill="#111"/>
<circle cx="413.44" cy="490.19" r="0.82" fill="#111"/>
<circle cx="411.06" cy="490.54" r="0.82" fill="#111"/>
<circle cx="415.21" cy="509.30" r="0.82" fill="#111"/>
<circle cx="395.11" cy="497.65" r="0.82" fill="#111"/>
<circle cx="402.27" cy="508.23" r="0.82" fill="#111"/>
<circle cx="412.69" cy="494.91" r="0.82" fill="#111"/>
<circle cx="418.71" cy="490.31" r="0.82" fill="#111"/>
<circle cx="412.24" cy="488.00" r="0.82" fill="#111"/>
<circle cx="392.84" cy="471.60" r="0.82" fill="#111"/>
<circle cx="408.87" cy="503.68" r="0.82" fill="#111"/>
<circle cx="394.45" cy="485.62" r="0.82" fill="#111"/>
<circle cx="407.30" cy="489.25" r="0.82" fill="#111"/>
<circle cx="414.57" cy="490.53" r="0.82" fill="#111"/>
<circle cx="394.83" cy="508.75" r="0.82" fill="#111"/>
<circle cx="418.07" cy="492.23" r="0.82" fill="#111"/>
<circle cx="410.91" cy="494.52" r="0.82" fill="#111"/>
<circle cx="398.88" cy="497.57" r="0.82" fill="#111"/>
<circle cx="397.12" cy="495.02" r="0.82" fill="#111"/>
<circle cx="404.38" cy="509.46" r="0.82" fill="#111"/>
<circle cx="415.57" cy="499.70" r="0.82" fill="#111"/>
<circle cx="408.23" cy="492.43" r="0.82" fill="#111"/>
<circle cx="394.85" cy="501.71" r="0.82" fill="#111"/>
<circle cx="392.20" cy="491.65" r="0.82" fill="#111"/>
<circle cx="394.76" cy="483.32" r="0.82" fill="#111"/>
<circle cx="414.50" cy="496.23" r="0.82" fill="#111"/>
<circle cx="396.90" cy="503.58" r="0.82" fill="#111"/>
<circle cx="407.45" cy="494.30" r="0.82" fill="#111"/>
<circle cx="399.90" cy="501.33" r="0.82" fill="#111"/>
<circle cx="411.25" cy="504.82" r="0.82" fill="#111"/>
<circle cx="402.49" cy="502.63" r="0.82" fill="#111"/>
<circle cx="395.73" cy="478.23" r="0.82" fill="#111"/>
<circle cx="416.64" cy="491.27" r="0.82" fill="#111"/>
<circle cx="407.00" cy="490.96" r="0.82" fill="#111"/>
<circle cx="411.32" cy="489.18" r="0.82" fill="#111"/>
<circle cx="414.71" cy="517.78" r="0.82" fill="#111"/>
<circle cx="418.73" cy="494.13" r="0.82" fill="#111"/>
<circle cx="391.99" cy="490.89" r="0.82" fill="#111"/>
<circle cx="401.39" cy="501.87" r="0.82" fill="#111"/>
<circle cx="395.92" cy="510.98" r="0.82" fill="#111"/>
<circle cx="405.95" cy="492.33" r="0.82" fill="#111"/>
<circle cx="416.57" cy="501.97" r="0.82" fill="#111"/>
<circle cx="414.49" cy="486.92" r="0.82" fill="#111"/>
<circle cx="392.61" cy="504.08" r="0.82" fill="#111"/>
<circle cx="396.81" cy="498.14" r="0.82" fill="#111"/>
<circle cx="415.00" cy="487.41" r="0.82" fill="#111"/>
<circle cx="411.03" cy="487.66" r="0.82" fill="#111"/>
<circle cx="402.83" cy="486.71" r="0.82" fill="#111"/>
<circle cx="405.21" cy="501.61" r="0.82" fill="#111"/>
<circle cx="396.13" cy="475.28" r="0.82" fill="#111"/>
<circle cx="415.77" cy="509.35" r="0.82" fill="#111"/>
<circle cx="402.85" cy="505.71" r="0.82" fill="#111"/>
<circle cx="416.57" cy="499.56" r="0.82" fill="#111"/>
<circle cx="409.07" cy="484.17" r="0.82" fill="#111"/>
<circle cx="393.77" cy="494.48" r="0.82" fill="#111"/>
<circle cx="401.02" cy="477.20" r="0.82" fill="#111"/>
<circle cx="397.79" cy="490.03" r="0.82" fill="#111"/>
<circle cx="417.17" cy="490.30" r="0.82" fill="#111"/>
<circle cx="408.45" cy="508.76" r="0.82" fill="#111"/>
<circle cx="392.85" cy="502.36" r="0.82" fill="#111"/>
<circle cx="396.45" cy="498.39" r="0.82" fill="#111"/>
<circle cx="401.92" cy="511.19" r="0.82" fill="#111"/>
<circle cx="404.98" cy="508.13" r="0.82" fill="#111"/>
<circle cx="408.10" cy="512.41" r="0.82" fill="#111"/>
<circle cx="402.69" cy="504.21" r="0.82" fill="#111"/>
<circle cx="401.72" cy="489.31" r="0.82" fill="#111"/>
<circle cx="391.77" cy="493.77" r="0.82" fill="#111"/>
<circle cx="408.16" cy="496.23" r="0.82" fill="#111"/>
<circle cx="401.15" cy="493.92" r="0.82" fill="#111"/>
<circle cx="392.19" cy="508.10" r="0.82" fill="#111"/>
<circle cx="404.74" cy="502.82" r="0.82" fill="#111"/>
<circle cx="419.81" cy="504.66" r="0.82" fill="#111"/>
<circle cx="392.90" cy="510.03" r="0.82" fill="#111"/>
<circle cx="395.77" cy="504.08" r="0.82" fill="#111"/>
<circle cx="410.79" cy="509.61" r="0.82" fill="#111"/>
<circle cx="399.40" cy="499.96" r="0.82" fill="#111"/>
<circle cx="399.42" cy="490.83" r="0.82" fill="#111"/>
<circle cx="405.90" cy="495.93" r="0.82" fill="#111"/>
<circle cx="399.10" cy="499.05" r="0.82" fill="#111"/>
<circle cx="407.87" cy="494.02" r="0.82" fill="#111"/>
<circle cx="406.71" cy="501.89" r="0.82" fill="#111"/>
<circle cx="418.97" cy="509.12" r="0.82" fill="#111"/>
<circle cx="419.98" cy="520.65" r="0.82" fill="#111"/>
<circle cx="392.58" cy="485.55" r="0.82" fill="#111"/>
<circle cx="407.63" cy="496.20" r="0.82" fill="#111"/>
<circle cx="413.65" cy="523.50" r="0.82" fill="#111"/>
<circle cx="416.55" cy="495.99" r="0.82" fill="#111"/>
<circle cx="413.74" cy="504.63" r="0.82" fill="#111"/>
<circle cx="409.71" cy="500.40" r="0.82" fill="#111"/>
<circle cx="409.75" cy="497.15" r="0.82" fill="#111"/>
<circle cx="401.98" cy="507.21" r="0.82" fill="#111"/>
<circle cx="399.65" cy="515.31" r="0.82" fill="#111"/>
<circle cx="414.35" cy="507.01" r="0.82" fill="#111"/>
<circle cx="416.56" cy="490.38" r="0.82" fill="#111"/>
<circle cx="418.45" cy="509.60" r="0.82" fill="#111"/>
<circle cx="411.09" cy="514.96" r="0.82" fill="#111"/>
<circle cx="400.29" cy="499.71" r="0.82" fill="#111"/>
<circle cx="413.43" cy="477.62" r="0.82" fill="#111"/>
<circle cx="412.75" cy="509.65" r="0.82" fill="#111"/>
<circle cx="406.15" cy="486.94" r="0.82" fill="#111"/>
<circle cx="409.77" cy="497.56" r="0.82" fill="#111"/>
<circle cx="401.62" cy="494.75" r="0.82" fill="#111"/>
<circle cx="407.35" cy="483.93" r="0.82" fill="#111"/>
<circle cx="403.21" cy="509.72" r="0.82" fill="#111"/>
<circle cx="393.33" cy="500.71" r="0.82" fill="#111"/>
<circle cx="401.24" cy="503.16" r="0.82" fill="#111"/>
<circle cx="400.84" cy="493.30" r="0.82" fill="#111"/>
<circle cx="419.87" cy="498.23" r="0.82" fill="#111"/>
<circle cx="405.37" cy="496.80" r="0.82" fill="#111"/>
<circle cx="402.10" cy="490.66" r="0.82" fill="#111"/>
<circle cx="398.56" cy="502.32" r="0.82" fill="#111"/>
<circle cx="398.32" cy="497.72" r="0.82" fill="#111"/>
<circle cx="401.59" cy="506.07" r="0.82" fill="#111"/>
<circle cx="395.48" cy="484.69" r="0.82" fill="#111"/>
<circle cx="391.81" cy="490.51" r="0.82" fill="#111"/>
<circle cx="416.51" cy="480.01" r="0.82" fill="#111"/>
<circle cx="404.56" cy="516.49" r="0.82" fill="#111"/>
<circle cx="404.34" cy="507.74" r="0.82" fill="#111"/>
<circle cx="407.87" cy="500.30" r="0.82" fill="#111"/>
<circle cx="400.25" cy="487.63" r="0.82" fill="#111"/>
<circle cx="396.43" cy="504.22" r="0.82" fill="#111"/>
<circle cx="393.50" cy="509.72" r="0.82" fill="#111"/>
<circle cx="400.22" cy="478.09" r="0.82" fill="#111"/>
<circle cx="400.42" cy="499.80" r="0.82" fill="#111"/>
<circle cx="412.38" cy="498.37" r="0.82" fill="#111"/>
<circle cx="407.37" cy="509.27" r="0.82" fill="#111"/>
<circle cx="418.41" cy="478.14" r="0.82" fill="#111"/>
<circle cx="401.34" cy="493.91" r="0.82" fill="#111"/>
<circle cx="417.95" cy="502.74" r="0.82" fill="#111"/>
<circle cx="408.28" cy="502.18" r="0.82" fill="#111"/>
<circle cx="393.89" cy="499.74" r="0.82" fill="#111"/>
<circle cx="396.71" cy="494.34" r="0.82" fill="#111"/>
<circle cx="408.20" cy="497.90" r="0.82" fill="#111"/>
<circle cx="419.84" cy="507.58" r="0.82" fill="#111"/>
<circle cx="401.81" cy="483.46" r="0.82" fill="#111"/>
<circle cx="413.75" cy="509.75" r="0.82" fill="#111"/>
<circle cx="403.85" cy="484.72" r="0.82" fill="#111"/>
<circle cx="416.43" cy="490.79" r="0.82" fill="#111"/>
<circle cx="393.54" cy="514.94" r="0.82" fill="#111"/>
<circle cx="405.46" cy="488.09" r="0.82" fill="#111"/>
<circle cx="417.31" cy="495.49" r="0.82" fill="#111"/>
<circle cx="399.49" cy="508.18" r="0.82" fill="#111"/>
<circle cx="398.97" cy="476.40" r="0.82" fill="#111"/>
<circle cx="392.26" cy="485.01" r="0.82" fill="#111"/>
<circle cx="396.31" cy="523.55" r="0.82" fill="#111"/>
<circle cx="399.27" cy="487.71" r="0.82" fill="#111"/>
<circle cx="411.75" cy="506.71" r="0.82" fill="#111"/>
<circle cx="397.84" cy="517.56" r="0.82" fill="#111"/>
<circle cx="403.03" cy="492.13" r="0.82" fill="#111"/>
<circle cx="397.33" cy="514.14" r="0.82" fill="#111"/>
<circle cx="408.84" cy="503.62" r="0.82" fill="#111"/>
<circle cx="416.31" cy="498.81" r="0.82" fill="#111"/>
<circle cx="410.14" cy="503.83" r="0.82" fill="#111"/>
<circle cx="397.23" cy="511.48" r="0.82" fill="#111"/>
<circle cx="412.59" cy="451.36" r="0.82" fill="#111"/>
<circle cx="419.15" cy="434.68" r="0.82" fill="#111"/>
<circle cx="408.79" cy="466.76" r="0.82" fill="#111"/>
<circle cx="393.87" cy="441.34" r="0.82" fill="#111"/>
<circle cx="414.75" cy="470.13" r="0.82" fill="#111"/>
<circle cx="416.64" cy="443.71" r="0.82" fill="#111"/>
<rect x="349.3" y="382.9" width="78.19999999999999" height="148.30000000000007" fill="none" stroke="#4a4a4a" stroke-width="1.8"/>
<line x1="347.1" y1="431.80" x2="349.3" y2="431.80" stroke="#888" stroke-width="0.8"/>
<text transform="translate(345.90,435.40) scale(0.93,1)" text-anchor="end" font-family='"Liberation Sans", sans-serif' font-weight="bold" font-size="10.2" fill="#4D4D4D">20</text>
<line x1="347.1" y1="481.90" x2="349.3" y2="481.90" stroke="#888" stroke-width="0.8"/>
<text transform="translate(345.90,485.50) scale(0.93,1)" text-anchor="end" font-family='"Liberation Sans", sans-serif' font-weight="bold" font-size="10.2" fill="#4D4D4D">10</text>
<line x1="347.1" y1="532.00" x2="349.3" y2="532.00" stroke="#888" stroke-width="0.8"/>
<text transform="translate(345.90,535.60) scale(0.93,1)" text-anchor="end" font-family='"Liberation Sans", sans-serif' font-weight="bold" font-size="10.2" fill="#4D4D4D">0</text>
<line x1="371.1" y1="531.2" x2="371.1" y2="533.4000000000001" stroke="#888" stroke-width="0.8"/>
<text transform="translate(371.10,541.1) scale(0.95,1)" text-anchor="middle" font-family='"Liberation Sans", sans-serif' font-weight="bold" font-size="10.1" fill="#4D4D4D">BOT</text>
<line x1="405.9" y1="531.2" x2="405.9" y2="533.4000000000001" stroke="#888" stroke-width="0.8"/>
<text transform="translate(405.90,541.1) scale(0.95,1)" text-anchor="middle" font-family='"Liberation Sans", sans-serif' font-weight="bold" font-size="10.1" fill="#4D4D4D">OC</text>
<text transform="translate(356.13,365.70) scale(1.108,1)" font-family='"Liberation Serif", serif' font-weight="bold" font-size="10.36" fill="#111">Indirect</text>
<text transform="translate(356.36,378.20) scale(1.020,1)" font-family='"Liberation Serif", serif' font-weight="bold" font-size="11.37" fill="#111">bilirubin</text>
<rect x="459.5" y="382.9" width="72.70000000000005" height="146.5" fill="#FFFFFF"/>
<line x1="459.5" y1="399.79" x2="532.2" y2="399.79" stroke="#D9D9D9" stroke-width="1"/>
<line x1="459.5" y1="436.85" x2="532.2" y2="436.85" stroke="#D9D9D9" stroke-width="1"/>
<line x1="459.5" y1="473.91" x2="532.2" y2="473.91" stroke="#D9D9D9" stroke-width="1"/>
<line x1="459.5" y1="510.97" x2="532.2" y2="510.97" stroke="#D9D9D9" stroke-width="1"/>
<line x1="459.5" y1="418.32" x2="532.2" y2="418.32" stroke="#D9D9D9" stroke-width="1"/>
<line x1="459.5" y1="455.38" x2="532.2" y2="455.38" stroke="#D9D9D9" stroke-width="1"/>
<line x1="459.5" y1="492.44" x2="532.2" y2="492.44" stroke="#D9D9D9" stroke-width="1"/>
<line x1="459.5" y1="529.50" x2="532.2" y2="529.50" stroke="#D9D9D9" stroke-width="1"/>
<line x1="478.9" y1="382.9" x2="478.9" y2="529.4" stroke="#D9D9D9" stroke-width="1"/>
<line x1="511.9" y1="382.9" x2="511.9" y2="529.4" stroke="#D9D9D9" stroke-width="1"/>
<line x1="478.9" y1="499.85" x2="478.9" y2="522.09" stroke="#7a7a7a" stroke-width="1.3"/>
<rect x="465.00" y="509.86" width="27.8" height="7.97" fill="#8E68A6"/>
<line x1="465.00" y1="513.93" x2="492.80" y2="513.93" stroke="#3a3a3a" stroke-width="1.3"/>
<line x1="511.9" y1="506.34" x2="511.9" y2="523.01" stroke="#7a7a7a" stroke-width="1.3"/>
<rect x="498.00" y="513.19" width="27.8" height="4.82" fill="#F2E86C"/>
<line x1="498.00" y1="515.97" x2="525.80" y2="515.97" stroke="#3a3a3a" stroke-width="1.3"/>
<circle cx="478.9" cy="390.52" r="1.45" fill="#1a1a1a"/>
<circle cx="478.9" cy="494.29" r="1.45" fill="#1a1a1a"/>
<circle cx="478.9" cy="500.78" r="1.45" fill="#1a1a1a"/>
<circle cx="511.9" cy="499.85" r="1.45" fill="#1a1a1a"/>
<circle cx="511.9" cy="503.56" r="1.45" fill="#1a1a1a"/>
<circle cx="511.9" cy="507.26" r="1.45" fill="#1a1a1a"/>
<circle cx="465.97" cy="515.11" r="0.82" fill="#111"/>
<circle cx="473.55" cy="511.64" r="0.82" fill="#111"/>
<circle cx="479.85" cy="511.57" r="0.82" fill="#111"/>
<circle cx="476.28" cy="508.43" r="0.82" fill="#111"/>
<circle cx="480.77" cy="509.05" r="0.82" fill="#111"/>
<circle cx="473.82" cy="518.42" r="0.82" fill="#111"/>
<circle cx="472.38" cy="510.92" r="0.82" fill="#111"/>
<circle cx="487.43" cy="515.24" r="0.82" fill="#111"/>
<circle cx="472.90" cy="517.32" r="0.82" fill="#111"/>
<circle cx="484.96" cy="506.92" r="0.82" fill="#111"/>
<circle cx="487.61" cy="516.55" r="0.82" fill="#111"/>
<circle cx="481.55" cy="517.55" r="0.82" fill="#111"/>
<circle cx="477.59" cy="515.57" r="0.82" fill="#111"/>
<circle cx="491.42" cy="517.54" r="0.82" fill="#111"/>
<circle cx="477.31" cy="509.27" r="0.82" fill="#111"/>
<circle cx="489.79" cy="512.06" r="0.82" fill="#111"/>
<circle cx="466.16" cy="507.51" r="0.82" fill="#111"/>
<circle cx="476.99" cy="511.92" r="0.82" fill="#111"/>
<circle cx="482.91" cy="516.49" r="0.82" fill="#111"/>
<circle cx="465.91" cy="509.08" r="0.82" fill="#111"/>
<circle cx="489.34" cy="516.67" r="0.82" fill="#111"/>
<circle cx="466.57" cy="515.81" r="0.82" fill="#111"/>
<circle cx="481.67" cy="514.50" r="0.82" fill="#111"/>
<circle cx="469.69" cy="513.57" r="0.82" fill="#111"/>
<circle cx="491.07" cy="508.43" r="0.82" fill="#111"/>
<circle cx="480.66" cy="516.45" r="0.82" fill="#111"/>
<circle cx="487.56" cy="512.18" r="0.82" fill="#111"/>
<circle cx="478.85" cy="513.87" r="0.82" fill="#111"/>
<circle cx="483.91" cy="519.36" r="0.82" fill="#111"/>
<circle cx="483.94" cy="518.63" r="0.82" fill="#111"/>
<circle cx="472.99" cy="514.73" r="0.82" fill="#111"/>
<circle cx="470.58" cy="511.95" r="0.82" fill="#111"/>
<circle cx="488.64" cy="512.32" r="0.82" fill="#111"/>
<circle cx="468.70" cy="511.61" r="0.82" fill="#111"/>
<circle cx="490.93" cy="513.53" r="0.82" fill="#111"/>
<circle cx="470.46" cy="515.75" r="0.82" fill="#111"/>
<circle cx="467.40" cy="511.85" r="0.82" fill="#111"/>
<circle cx="467.24" cy="518.22" r="0.82" fill="#111"/>
<circle cx="487.09" cy="519.74" r="0.82" fill="#111"/>
<circle cx="491.89" cy="515.23" r="0.82" fill="#111"/>
<circle cx="476.44" cy="520.13" r="0.82" fill="#111"/>
<circle cx="483.48" cy="516.05" r="0.82" fill="#111"/>
<circle cx="471.92" cy="517.08" r="0.82" fill="#111"/>
<circle cx="490.59" cy="516.22" r="0.82" fill="#111"/>
<circle cx="484.25" cy="513.95" r="0.82" fill="#111"/>
<circle cx="468.96" cy="517.32" r="0.82" fill="#111"/>
<circle cx="466.13" cy="515.64" r="0.82" fill="#111"/>
<circle cx="484.54" cy="521.38" r="0.82" fill="#111"/>
<circle cx="465.70" cy="513.10" r="0.82" fill="#111"/>
<circle cx="488.58" cy="517.68" r="0.82" fill="#111"/>
<circle cx="472.96" cy="511.94" r="0.82" fill="#111"/>
<circle cx="471.20" cy="517.33" r="0.82" fill="#111"/>
<circle cx="481.26" cy="512.66" r="0.82" fill="#111"/>
<circle cx="473.68" cy="515.36" r="0.82" fill="#111"/>
<circle cx="480.64" cy="513.33" r="0.82" fill="#111"/>
<circle cx="468.93" cy="513.29" r="0.82" fill="#111"/>
<circle cx="490.76" cy="520.43" r="0.82" fill="#111"/>
<circle cx="473.84" cy="512.72" r="0.82" fill="#111"/>
<circle cx="488.73" cy="513.08" r="0.82" fill="#111"/>
<circle cx="468.87" cy="518.09" r="0.82" fill="#111"/>
<circle cx="487.52" cy="510.42" r="0.82" fill="#111"/>
<circle cx="492.73" cy="513.97" r="0.82" fill="#111"/>
<circle cx="475.78" cy="513.67" r="0.82" fill="#111"/>
<circle cx="465.45" cy="515.76" r="0.82" fill="#111"/>
<circle cx="475.44" cy="511.30" r="0.82" fill="#111"/>
<circle cx="482.95" cy="513.32" r="0.82" fill="#111"/>
<circle cx="470.93" cy="508.67" r="0.82" fill="#111"/>
<circle cx="480.22" cy="511.73" r="0.82" fill="#111"/>
<circle cx="467.20" cy="516.51" r="0.82" fill="#111"/>
<circle cx="477.88" cy="514.75" r="0.82" fill="#111"/>
<circle cx="485.47" cy="509.64" r="0.82" fill="#111"/>
<circle cx="476.88" cy="515.38" r="0.82" fill="#111"/>
<circle cx="484.05" cy="512.04" r="0.82" fill="#111"/>
<circle cx="467.79" cy="511.41" r="0.82" fill="#111"/>
<circle cx="488.36" cy="514.55" r="0.82" fill="#111"/>
<circle cx="468.02" cy="513.16" r="0.82" fill="#111"/>
<circle cx="491.09" cy="512.79" r="0.82" fill="#111"/>
<circle cx="493.19" cy="513.14" r="0.82" fill="#111"/>
<circle cx="491.56" cy="517.15" r="0.82" fill="#111"/>
<circle cx="479.66" cy="508.34" r="0.82" fill="#111"/>
<circle cx="472.87" cy="514.35" r="0.82" fill="#111"/>
<circle cx="474.52" cy="516.54" r="0.82" fill="#111"/>
<circle cx="486.11" cy="516.96" r="0.82" fill="#111"/>
<circle cx="478.80" cy="512.14" r="0.82" fill="#111"/>
<circle cx="491.28" cy="518.64" r="0.82" fill="#111"/>
<circle cx="467.18" cy="518.23" r="0.82" fill="#111"/>
<circle cx="478.46" cy="504.79" r="0.82" fill="#111"/>
<circle cx="489.38" cy="507.88" r="0.82" fill="#111"/>
<circle cx="481.72" cy="509.03" r="0.82" fill="#111"/>
<circle cx="480.07" cy="507.63" r="0.82" fill="#111"/>
<circle cx="467.05" cy="511.08" r="0.82" fill="#111"/>
<circle cx="468.52" cy="521.30" r="0.82" fill="#111"/>
<circle cx="472.31" cy="508.40" r="0.82" fill="#111"/>
<circle cx="490.22" cy="508.20" r="0.82" fill="#111"/>
<circle cx="488.85" cy="511.55" r="0.82" fill="#111"/>
<circle cx="471.04" cy="522.52" r="0.82" fill="#111"/>
<circle cx="491.13" cy="508.18" r="0.82" fill="#111"/>
<circle cx="465.43" cy="507.63" r="0.82" fill="#111"/>
<circle cx="481.75" cy="515.96" r="0.82" fill="#111"/>
<circle cx="492.36" cy="513.18" r="0.82" fill="#111"/>
<circle cx="474.42" cy="510.27" r="0.82" fill="#111"/>
<circle cx="491.70" cy="514.13" r="0.82" fill="#111"/>
<circle cx="483.41" cy="508.82" r="0.82" fill="#111"/>
<circle cx="465.94" cy="513.39" r="0.82" fill="#111"/>
<circle cx="474.09" cy="510.65" r="0.82" fill="#111"/>
<circle cx="477.45" cy="513.37" r="0.82" fill="#111"/>
<circle cx="471.63" cy="520.38" r="0.82" fill="#111"/>
<circle cx="485.88" cy="518.22" r="0.82" fill="#111"/>
<circle cx="469.65" cy="512.50" r="0.82" fill="#111"/>
<circle cx="487.19" cy="507.87" r="0.82" fill="#111"/>
<circle cx="473.09" cy="508.64" r="0.82" fill="#111"/>
<circle cx="466.50" cy="506.05" r="0.82" fill="#111"/>
<circle cx="480.60" cy="511.26" r="0.82" fill="#111"/>
<circle cx="467.26" cy="516.42" r="0.82" fill="#111"/>
<circle cx="480.39" cy="513.67" r="0.82" fill="#111"/>
<circle cx="487.19" cy="522.37" r="0.82" fill="#111"/>
<circle cx="481.65" cy="514.59" r="0.82" fill="#111"/>
<circle cx="477.79" cy="509.68" r="0.82" fill="#111"/>
<circle cx="465.47" cy="512.87" r="0.82" fill="#111"/>
<circle cx="479.28" cy="510.05" r="0.82" fill="#111"/>
<circle cx="467.30" cy="507.78" r="0.82" fill="#111"/>
<circle cx="483.13" cy="517.91" r="0.82" fill="#111"/>
<circle cx="468.30" cy="516.68" r="0.82" fill="#111"/>
<circle cx="481.15" cy="522.18" r="0.82" fill="#111"/>
<circle cx="474.66" cy="518.33" r="0.82" fill="#111"/>
<circle cx="475.29" cy="511.35" r="0.82" fill="#111"/>
<circle cx="483.60" cy="504.45" r="0.82" fill="#111"/>
<circle cx="469.22" cy="518.90" r="0.82" fill="#111"/>
<circle cx="469.39" cy="507.55" r="0.82" fill="#111"/>
<circle cx="491.62" cy="511.83" r="0.82" fill="#111"/>
<circle cx="474.05" cy="515.97" r="0.82" fill="#111"/>
<circle cx="488.76" cy="503.88" r="0.82" fill="#111"/>
<circle cx="489.65" cy="514.05" r="0.82" fill="#111"/>
<circle cx="478.33" cy="512.77" r="0.82" fill="#111"/>
<circle cx="468.79" cy="504.17" r="0.82" fill="#111"/>
<circle cx="467.21" cy="505.66" r="0.82" fill="#111"/>
<circle cx="489.82" cy="503.56" r="0.82" fill="#111"/>
<circle cx="467.87" cy="513.15" r="0.82" fill="#111"/>
<circle cx="478.79" cy="509.34" r="0.82" fill="#111"/>
<circle cx="479.94" cy="507.61" r="0.82" fill="#111"/>
<circle cx="467.89" cy="511.45" r="0.82" fill="#111"/>
<circle cx="477.97" cy="512.13" r="0.82" fill="#111"/>
<circle cx="469.22" cy="514.58" r="0.82" fill="#111"/>
<circle cx="479.92" cy="515.59" r="0.82" fill="#111"/>
<circle cx="479.10" cy="519.28" r="0.82" fill="#111"/>
<circle cx="475.07" cy="504.97" r="0.82" fill="#111"/>
<circle cx="470.19" cy="515.76" r="0.82" fill="#111"/>
<circle cx="476.13" cy="512.56" r="0.82" fill="#111"/>
<circle cx="470.36" cy="513.90" r="0.82" fill="#111"/>
<circle cx="468.16" cy="512.96" r="0.82" fill="#111"/>
<circle cx="471.41" cy="505.58" r="0.82" fill="#111"/>
<circle cx="489.60" cy="514.23" r="0.82" fill="#111"/>
<circle cx="478.95" cy="514.94" r="0.82" fill="#111"/>
<circle cx="490.15" cy="517.11" r="0.82" fill="#111"/>
<circle cx="464.94" cy="513.85" r="0.82" fill="#111"/>
<circle cx="491.67" cy="515.73" r="0.82" fill="#111"/>
<circle cx="478.57" cy="512.83" r="0.82" fill="#111"/>
<circle cx="487.28" cy="511.98" r="0.82" fill="#111"/>
<circle cx="480.93" cy="517.61" r="0.82" fill="#111"/>
<circle cx="484.34" cy="505.05" r="0.82" fill="#111"/>
<circle cx="471.10" cy="509.86" r="0.82" fill="#111"/>
<circle cx="486.10" cy="510.07" r="0.82" fill="#111"/>
<circle cx="468.93" cy="510.53" r="0.82" fill="#111"/>
<circle cx="472.11" cy="510.06" r="0.82" fill="#111"/>
<circle cx="465.39" cy="510.71" r="0.82" fill="#111"/>
<circle cx="475.83" cy="507.39" r="0.82" fill="#111"/>
<circle cx="479.42" cy="509.21" r="0.82" fill="#111"/>
<circle cx="472.91" cy="507.67" r="0.82" fill="#111"/>
<circle cx="490.15" cy="516.01" r="0.82" fill="#111"/>
<circle cx="466.93" cy="513.76" r="0.82" fill="#111"/>
<circle cx="481.16" cy="517.04" r="0.82" fill="#111"/>
<circle cx="471.24" cy="509.43" r="0.82" fill="#111"/>
<circle cx="481.64" cy="510.00" r="0.82" fill="#111"/>
<circle cx="487.08" cy="515.85" r="0.82" fill="#111"/>
<circle cx="484.97" cy="511.11" r="0.82" fill="#111"/>
<circle cx="466.29" cy="501.91" r="0.82" fill="#111"/>
<circle cx="471.58" cy="508.17" r="0.82" fill="#111"/>
<circle cx="481.76" cy="518.78" r="0.82" fill="#111"/>
<circle cx="492.81" cy="514.17" r="0.82" fill="#111"/>
<circle cx="465.69" cy="510.89" r="0.82" fill="#111"/>
<circle cx="482.31" cy="513.91" r="0.82" fill="#111"/>
<circle cx="484.42" cy="512.01" r="0.82" fill="#111"/>
<circle cx="487.96" cy="508.43" r="0.82" fill="#111"/>
<circle cx="474.35" cy="512.27" r="0.82" fill="#111"/>
<circle cx="487.84" cy="518.70" r="0.82" fill="#111"/>
<circle cx="477.80" cy="510.53" r="0.82" fill="#111"/>
<circle cx="491.02" cy="514.19" r="0.82" fill="#111"/>
<circle cx="464.81" cy="513.24" r="0.82" fill="#111"/>
<circle cx="491.58" cy="516.30" r="0.82" fill="#111"/>
<circle cx="476.36" cy="519.99" r="0.82" fill="#111"/>
<circle cx="476.22" cy="519.37" r="0.82" fill="#111"/>
<circle cx="467.04" cy="515.34" r="0.82" fill="#111"/>
<circle cx="471.55" cy="518.57" r="0.82" fill="#111"/>
<circle cx="485.63" cy="508.57" r="0.82" fill="#111"/>
<circle cx="484.05" cy="518.99" r="0.82" fill="#111"/>
<circle cx="468.86" cy="517.02" r="0.82" fill="#111"/>
<circle cx="474.42" cy="511.35" r="0.82" fill="#111"/>
<circle cx="468.54" cy="507.69" r="0.82" fill="#111"/>
<circle cx="470.21" cy="517.22" r="0.82" fill="#111"/>
<circle cx="470.83" cy="510.77" r="0.82" fill="#111"/>
<circle cx="474.03" cy="494.29" r="0.82" fill="#111"/>
<circle cx="525.61" cy="517.90" r="0.82" fill="#111"/>
<circle cx="526.22" cy="515.05" r="0.82" fill="#111"/>
<circle cx="520.30" cy="515.78" r="0.82" fill="#111"/>
<circle cx="511.32" cy="516.16" r="0.82" fill="#111"/>
<circle cx="511.82" cy="522.75" r="0.82" fill="#111"/>
<circle cx="519.94" cy="521.46" r="0.82" fill="#111"/>
<circle cx="523.65" cy="516.31" r="0.82" fill="#111"/>
<circle cx="519.14" cy="511.07" r="0.82" fill="#111"/>
<circle cx="515.83" cy="518.13" r="0.82" fill="#111"/>
<circle cx="503.23" cy="514.24" r="0.82" fill="#111"/>
<circle cx="515.50" cy="515.57" r="0.82" fill="#111"/>
<circle cx="521.86" cy="514.41" r="0.82" fill="#111"/>
<circle cx="520.15" cy="512.58" r="0.82" fill="#111"/>
<circle cx="500.16" cy="521.57" r="0.82" fill="#111"/>
<circle cx="518.16" cy="515.17" r="0.82" fill="#111"/>
<circle cx="507.56" cy="516.80" r="0.82" fill="#111"/>
<circle cx="502.17" cy="517.29" r="0.82" fill="#111"/>
<circle cx="525.31" cy="519.24" r="0.82" fill="#111"/>
<circle cx="516.87" cy="519.00" r="0.82" fill="#111"/>
<circle cx="518.97" cy="519.88" r="0.82" fill="#111"/>
<circle cx="501.39" cy="520.12" r="0.82" fill="#111"/>
<circle cx="521.36" cy="507.10" r="0.82" fill="#111"/>
<circle cx="524.49" cy="510.02" r="0.82" fill="#111"/>
<circle cx="523.56" cy="516.12" r="0.82" fill="#111"/>
<circle cx="518.95" cy="513.48" r="0.82" fill="#111"/>
<circle cx="521.47" cy="519.68" r="0.82" fill="#111"/>
<circle cx="520.60" cy="522.74" r="0.82" fill="#111"/>
<circle cx="514.50" cy="515.65" r="0.82" fill="#111"/>
<circle cx="510.04" cy="510.96" r="0.82" fill="#111"/>
<circle cx="521.27" cy="516.31" r="0.82" fill="#111"/>
<circle cx="520.09" cy="519.77" r="0.82" fill="#111"/>
<circle cx="522.58" cy="517.03" r="0.82" fill="#111"/>
<circle cx="506.11" cy="519.76" r="0.82" fill="#111"/>
<circle cx="525.17" cy="521.19" r="0.82" fill="#111"/>
<circle cx="512.81" cy="517.00" r="0.82" fill="#111"/>
<circle cx="524.74" cy="517.60" r="0.82" fill="#111"/>
<circle cx="500.84" cy="519.09" r="0.82" fill="#111"/>
<circle cx="525.39" cy="519.36" r="0.82" fill="#111"/>
<circle cx="520.18" cy="519.52" r="0.82" fill="#111"/>
<circle cx="504.76" cy="515.31" r="0.82" fill="#111"/>
<circle cx="521.65" cy="511.13" r="0.82" fill="#111"/>
<circle cx="504.18" cy="516.92" r="0.82" fill="#111"/>
<circle cx="503.20" cy="508.08" r="0.82" fill="#111"/>
<circle cx="510.69" cy="522.00" r="0.82" fill="#111"/>
<circle cx="504.32" cy="515.17" r="0.82" fill="#111"/>
<circle cx="511.69" cy="520.34" r="0.82" fill="#111"/>
<circle cx="523.65" cy="516.74" r="0.82" fill="#111"/>
<circle cx="517.24" cy="515.79" r="0.82" fill="#111"/>
<circle cx="517.96" cy="514.14" r="0.82" fill="#111"/>
<circle cx="508.79" cy="512.08" r="0.82" fill="#111"/>
<circle cx="520.07" cy="518.16" r="0.82" fill="#111"/>
<circle cx="520.36" cy="520.65" r="0.82" fill="#111"/>
<circle cx="517.17" cy="516.84" r="0.82" fill="#111"/>
<circle cx="524.62" cy="515.10" r="0.82" fill="#111"/>
<circle cx="521.28" cy="518.68" r="0.82" fill="#111"/>
<circle cx="509.20" cy="512.93" r="0.82" fill="#111"/>
<circle cx="500.01" cy="510.08" r="0.82" fill="#111"/>
<circle cx="516.29" cy="521.30" r="0.82" fill="#111"/>
<circle cx="521.58" cy="514.85" r="0.82" fill="#111"/>
<circle cx="507.28" cy="512.49" r="0.82" fill="#111"/>
<circle cx="514.63" cy="523.10" r="0.82" fill="#111"/>
<circle cx="521.59" cy="515.42" r="0.82" fill="#111"/>
<circle cx="520.34" cy="516.97" r="0.82" fill="#111"/>
<circle cx="497.63" cy="521.30" r="0.82" fill="#111"/>
<circle cx="511.58" cy="511.41" r="0.82" fill="#111"/>
<circle cx="497.97" cy="515.37" r="0.82" fill="#111"/>
<circle cx="500.69" cy="517.89" r="0.82" fill="#111"/>
<circle cx="520.90" cy="514.56" r="0.82" fill="#111"/>
<circle cx="509.56" cy="513.84" r="0.82" fill="#111"/>
<circle cx="514.92" cy="513.38" r="0.82" fill="#111"/>
<circle cx="510.68" cy="514.06" r="0.82" fill="#111"/>
<circle cx="507.16" cy="514.68" r="0.82" fill="#111"/>
<circle cx="503.65" cy="520.41" r="0.82" fill="#111"/>
<circle cx="507.69" cy="517.68" r="0.82" fill="#111"/>
<circle cx="521.82" cy="515.69" r="0.82" fill="#111"/>
<circle cx="515.34" cy="508.46" r="0.82" fill="#111"/>
<circle cx="505.91" cy="517.53" r="0.82" fill="#111"/>
<circle cx="500.03" cy="519.97" r="0.82" fill="#111"/>
<circle cx="505.31" cy="522.73" r="0.82" fill="#111"/>
<circle cx="517.69" cy="515.26" r="0.82" fill="#111"/>
<circle cx="510.23" cy="516.04" r="0.82" fill="#111"/>
<circle cx="516.54" cy="518.27" r="0.82" fill="#111"/>
<circle cx="520.75" cy="517.66" r="0.82" fill="#111"/>
<circle cx="500.98" cy="519.37" r="0.82" fill="#111"/>
<circle cx="517.17" cy="518.87" r="0.82" fill="#111"/>
<circle cx="498.70" cy="516.51" r="0.82" fill="#111"/>
<circle cx="521.20" cy="518.48" r="0.82" fill="#111"/>
<circle cx="502.80" cy="513.71" r="0.82" fill="#111"/>
<circle cx="505.32" cy="516.67" r="0.82" fill="#111"/>
<circle cx="525.08" cy="515.68" r="0.82" fill="#111"/>
<circle cx="507.94" cy="514.69" r="0.82" fill="#111"/>
<circle cx="503.96" cy="511.57" r="0.82" fill="#111"/>
<circle cx="523.13" cy="513.99" r="0.82" fill="#111"/>
<circle cx="515.07" cy="515.33" r="0.82" fill="#111"/>
<circle cx="523.24" cy="516.75" r="0.82" fill="#111"/>
<circle cx="508.86" cy="519.07" r="0.82" fill="#111"/>
<circle cx="511.89" cy="517.40" r="0.82" fill="#111"/>
<circle cx="525.03" cy="513.69" r="0.82" fill="#111"/>
<circle cx="512.09" cy="515.34" r="0.82" fill="#111"/>
<circle cx="525.97" cy="517.56" r="0.82" fill="#111"/>
<circle cx="502.96" cy="520.97" r="0.82" fill="#111"/>
<circle cx="521.42" cy="521.69" r="0.82" fill="#111"/>
<circle cx="502.17" cy="515.00" r="0.82" fill="#111"/>
<circle cx="512.68" cy="512.45" r="0.82" fill="#111"/>
<circle cx="497.51" cy="514.81" r="0.82" fill="#111"/>
<circle cx="502.55" cy="521.12" r="0.82" fill="#111"/>
<circle cx="524.72" cy="516.93" r="0.82" fill="#111"/>
<circle cx="510.59" cy="515.36" r="0.82" fill="#111"/>
<circle cx="520.81" cy="519.48" r="0.82" fill="#111"/>
<circle cx="504.72" cy="514.91" r="0.82" fill="#111"/>
<circle cx="507.65" cy="516.88" r="0.82" fill="#111"/>
<circle cx="500.41" cy="519.17" r="0.82" fill="#111"/>
<circle cx="513.42" cy="520.64" r="0.82" fill="#111"/>
<circle cx="522.33" cy="513.23" r="0.82" fill="#111"/>
<circle cx="512.30" cy="514.87" r="0.82" fill="#111"/>
<circle cx="508.35" cy="519.36" r="0.82" fill="#111"/>
<circle cx="524.24" cy="519.82" r="0.82" fill="#111"/>
<circle cx="523.24" cy="512.94" r="0.82" fill="#111"/>
<circle cx="516.69" cy="514.01" r="0.82" fill="#111"/>
<circle cx="499.69" cy="517.26" r="0.82" fill="#111"/>
<circle cx="515.47" cy="510.41" r="0.82" fill="#111"/>
<circle cx="510.29" cy="517.20" r="0.82" fill="#111"/>
<circle cx="525.09" cy="519.97" r="0.82" fill="#111"/>
<circle cx="507.92" cy="512.22" r="0.82" fill="#111"/>
<circle cx="516.54" cy="516.84" r="0.82" fill="#111"/>
<circle cx="515.70" cy="514.91" r="0.82" fill="#111"/>
<circle cx="508.32" cy="516.02" r="0.82" fill="#111"/>
<circle cx="512.54" cy="519.78" r="0.82" fill="#111"/>
<circle cx="516.98" cy="520.44" r="0.82" fill="#111"/>
<circle cx="523.63" cy="516.86" r="0.82" fill="#111"/>
<circle cx="511.85" cy="511.08" r="0.82" fill="#111"/>
<circle cx="507.98" cy="519.78" r="0.82" fill="#111"/>
<circle cx="525.61" cy="511.25" r="0.82" fill="#111"/>
<circle cx="499.14" cy="515.36" r="0.82" fill="#111"/>
<circle cx="521.54" cy="520.17" r="0.82" fill="#111"/>
<circle cx="517.19" cy="515.20" r="0.82" fill="#111"/>
<circle cx="513.55" cy="514.11" r="0.82" fill="#111"/>
<circle cx="510.39" cy="519.40" r="0.82" fill="#111"/>
<circle cx="519.13" cy="523.84" r="0.82" fill="#111"/>
<circle cx="523.16" cy="514.87" r="0.82" fill="#111"/>
<circle cx="518.49" cy="520.16" r="0.82" fill="#111"/>
<circle cx="519.09" cy="514.57" r="0.82" fill="#111"/>
<circle cx="498.51" cy="523.06" r="0.82" fill="#111"/>
<circle cx="506.87" cy="516.67" r="0.82" fill="#111"/>
<circle cx="501.45" cy="519.08" r="0.82" fill="#111"/>
<circle cx="524.95" cy="521.50" r="0.82" fill="#111"/>
<circle cx="523.17" cy="517.03" r="0.82" fill="#111"/>
<circle cx="501.66" cy="515.54" r="0.82" fill="#111"/>
<circle cx="514.42" cy="518.17" r="0.82" fill="#111"/>
<circle cx="514.11" cy="520.42" r="0.82" fill="#111"/>
<circle cx="498.84" cy="515.39" r="0.82" fill="#111"/>
<circle cx="508.80" cy="522.46" r="0.82" fill="#111"/>
<circle cx="519.02" cy="514.23" r="0.82" fill="#111"/>
<circle cx="515.98" cy="514.39" r="0.82" fill="#111"/>
<circle cx="505.59" cy="510.11" r="0.82" fill="#111"/>
<circle cx="519.46" cy="512.97" r="0.82" fill="#111"/>
<circle cx="505.89" cy="514.88" r="0.82" fill="#111"/>
<circle cx="513.18" cy="515.21" r="0.82" fill="#111"/>
<circle cx="509.62" cy="516.06" r="0.82" fill="#111"/>
<circle cx="525.67" cy="520.94" r="0.82" fill="#111"/>
<circle cx="516.19" cy="510.89" r="0.82" fill="#111"/>
<circle cx="520.68" cy="514.26" r="0.82" fill="#111"/>
<circle cx="516.98" cy="517.19" r="0.82" fill="#111"/>
<circle cx="508.46" cy="520.29" r="0.82" fill="#111"/>
<circle cx="525.24" cy="510.81" r="0.82" fill="#111"/>
<circle cx="517.94" cy="514.24" r="0.82" fill="#111"/>
<circle cx="517.40" cy="520.43" r="0.82" fill="#111"/>
<circle cx="505.49" cy="513.74" r="0.82" fill="#111"/>
<circle cx="502.16" cy="509.33" r="0.82" fill="#111"/>
<circle cx="514.06" cy="516.24" r="0.82" fill="#111"/>
<circle cx="521.29" cy="514.72" r="0.82" fill="#111"/>
<circle cx="520.36" cy="517.66" r="0.82" fill="#111"/>
<circle cx="507.50" cy="518.42" r="0.82" fill="#111"/>
<circle cx="501.53" cy="512.29" r="0.82" fill="#111"/>
<circle cx="512.36" cy="515.74" r="0.82" fill="#111"/>
<circle cx="522.77" cy="516.60" r="0.82" fill="#111"/>
<circle cx="502.17" cy="513.30" r="0.82" fill="#111"/>
<circle cx="518.76" cy="517.26" r="0.82" fill="#111"/>
<circle cx="502.42" cy="513.53" r="0.82" fill="#111"/>
<circle cx="506.48" cy="513.18" r="0.82" fill="#111"/>
<circle cx="499.04" cy="519.82" r="0.82" fill="#111"/>
<circle cx="506.07" cy="520.02" r="0.82" fill="#111"/>
<circle cx="508.53" cy="516.43" r="0.82" fill="#111"/>
<circle cx="525.35" cy="513.16" r="0.82" fill="#111"/>
<circle cx="525.21" cy="515.16" r="0.82" fill="#111"/>
<circle cx="502.89" cy="511.69" r="0.82" fill="#111"/>
<circle cx="506.41" cy="521.11" r="0.82" fill="#111"/>
<circle cx="524.68" cy="514.38" r="0.82" fill="#111"/>
<circle cx="503.18" cy="518.40" r="0.82" fill="#111"/>
<circle cx="506.74" cy="515.80" r="0.82" fill="#111"/>
<circle cx="510.12" cy="515.00" r="0.82" fill="#111"/>
<circle cx="500.62" cy="519.65" r="0.82" fill="#111"/>
<circle cx="504.99" cy="516.98" r="0.82" fill="#111"/>
<circle cx="508.85" cy="520.34" r="0.82" fill="#111"/>
<circle cx="508.60" cy="515.20" r="0.82" fill="#111"/>
<circle cx="525.25" cy="519.22" r="0.82" fill="#111"/>
<circle cx="505.19" cy="517.94" r="0.82" fill="#111"/>
<circle cx="503.37" cy="515.37" r="0.82" fill="#111"/>
<circle cx="523.67" cy="518.51" r="0.82" fill="#111"/>
<circle cx="510.47" cy="512.03" r="0.82" fill="#111"/>
<rect x="459.5" y="382.9" width="72.70000000000005" height="146.5" fill="none" stroke="#4a4a4a" stroke-width="1.8"/>
<line x1="457.3" y1="418.32" x2="459.5" y2="418.32" stroke="#888" stroke-width="0.8"/>
<text transform="translate(456.10,421.92) scale(0.93,1)" text-anchor="end" font-family='"Liberation Sans", sans-serif' font-weight="bold" font-size="10.2" fill="#4D4D4D">600</text>
<line x1="457.3" y1="455.38" x2="459.5" y2="455.38" stroke="#888" stroke-width="0.8"/>
<text transform="translate(456.10,458.98) scale(0.93,1)" text-anchor="end" font-family='"Liberation Sans", sans-serif' font-weight="bold" font-size="10.2" fill="#4D4D4D">400</text>
<line x1="457.3" y1="492.44" x2="459.5" y2="492.44" stroke="#888" stroke-width="0.8"/>
<text transform="translate(456.10,496.04) scale(0.93,1)" text-anchor="end" font-family='"Liberation Sans", sans-serif' font-weight="bold" font-size="10.2" fill="#4D4D4D">200</text>
<line x1="457.3" y1="529.50" x2="459.5" y2="529.50" stroke="#888" stroke-width="0.8"/>
<text transform="translate(456.10,533.10) scale(0.93,1)" text-anchor="end" font-family='"Liberation Sans", sans-serif' font-weight="bold" font-size="10.2" fill="#4D4D4D">0</text>
<line x1="478.9" y1="529.4" x2="478.9" y2="531.6" stroke="#888" stroke-width="0.8"/>
<text transform="translate(478.90,541.1) scale(0.95,1)" text-anchor="middle" font-family='"Liberation Sans", sans-serif' font-weight="bold" font-size="10.1" fill="#4D4D4D">BOT</text>
<line x1="511.9" y1="529.4" x2="511.9" y2="531.6" stroke="#888" stroke-width="0.8"/>
<text transform="translate(511.90,541.1) scale(0.95,1)" text-anchor="middle" font-family='"Liberation Sans", sans-serif' font-weight="bold" font-size="10.1" fill="#4D4D4D">OC</text>
<text transform="translate(473.08,367.60) scale(1.101,1)" font-family='"Liberation Serif", serif' font-weight="bold" font-size="10.65" fill="#111">Alkaline</text>
<text transform="translate(462.95,376.62) scale(1.147,1)" font-family='"Liberation Serif", serif' font-weight="bold" font-size="10.25" fill="#111">phosphatase</text>
</svg></body></html>
